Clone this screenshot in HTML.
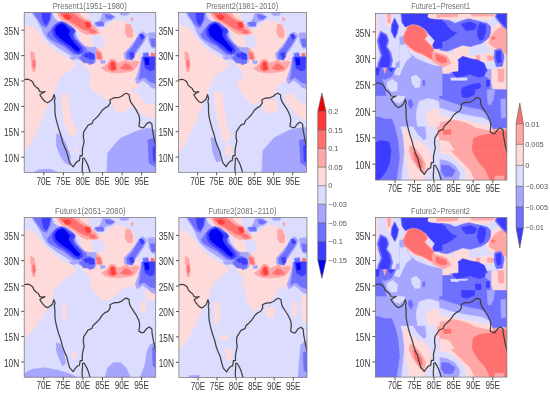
<!DOCTYPE html><html><head><meta charset="utf-8"><style>html,body{margin:0;padding:0;background:#fff;}svg{display:block}text{font-family:"Liberation Sans",Arial,sans-serif}</style></head><body>
<svg width="550" height="394" viewBox="0 0 550 394">
<rect width="550" height="394" fill="#fff"/>
<defs><filter id="bl" x="-5%" y="-5%" width="110%" height="110%"><feGaussianBlur stdDeviation="0.55"/></filter></defs>
<clipPath id="c1"><rect x="24.2" y="12.4" width="131.6" height="160.0"/></clipPath>
<g clip-path="url(#c1)">
<g filter="url(#bl)">
<rect x="21.2" y="9.4" width="137.6" height="166.0" fill="#dcdcff"/>
<path d="M24.3,25.1 L31.3,27.1 L36.3,21.3 L42.6,23.8 L47.6,33.8 L55.1,42.6 L62.6,51.4 L71.4,60.2 L76.4,64.7 L70.2,70.2 L61.4,75.7 L58.9,81.8 L24.3,81.8Z" fill="#ffdada" stroke="#ffdada" stroke-width="0.7"/>
<path d="M80.2,60.2 L85.2,53.9 L95.3,60.2 L105.3,58.9 L114.1,47.6 L120.4,43.9 L130.4,46.4 L136.7,38.9 L137.9,50.1 L139.9,67.7 L140.4,77.7 L137.9,81.8 L89.7,81.8 L90.7,72.7Z" fill="#ffdada" stroke="#ffdada" stroke-width="0.7"/>
<path d="M81.5,20.0 L92.8,25.1 L102.8,22.5 L112.8,20.0 L125.4,21.3 L133.4,28.1 L135.9,37.6 L130.4,47.6 L120.4,45.1 L112.8,50.1 L105.3,60.7 L95.3,62.2 L87.2,57.7 L82.7,47.6 L80.2,37.6Z" fill="#ffdada" stroke="#ffdada" stroke-width="0.7"/>
<path d="M54.6,10.0 L91.0,10.0 L91.0,35.1 L84.7,35.7 L78.5,32.0 L72.2,27.6 L65.9,24.4 L59.6,21.3 L56.5,16.3Z" fill="#ffdada" stroke="#ffdada" stroke-width="0.7"/>
<path d="M100.3,67.0 L106.6,62.0 L139.2,59.5 L141.7,64.5 L136.7,73.3 L126.6,74.6 L111.6,74.6 L101.5,72.1Z" fill="#ffdada" stroke="#ffdada" stroke-width="0.7"/>
<path d="M24.3,79.0 L57.6,79.0 L55.1,90.0 L50.1,100.1 L45.1,110.1 L40.1,122.6 L35.1,135.2 L28.8,145.2 L24.3,152.8Z" fill="#ffdada" stroke="#ffdada" stroke-width="0.7"/>
<path d="M90.2,79.0 L136.7,79.0 L131.6,90.0 L130.4,108.1 L122.9,111.4 L115.3,108.1 L110.3,100.6 L102.8,97.6 L92.8,90.0 L89.0,85.0Z" fill="#ffdada" stroke="#ffdada" stroke-width="0.7"/>
<path d="M130.4,92.5 L137.9,93.8 L145.4,103.8 L155.5,105.1 L155.5,117.6 L149.2,117.6 L140.4,112.6 L132.9,105.1Z" fill="#ffdada" stroke="#ffdada" stroke-width="0.7"/>
<path d="M131.6,80.0 L140.4,80.0 L137.9,90.0 L132.9,87.5Z" fill="#ffdada" stroke="#ffdada" stroke-width="0.7"/>
<path d="M61.4,95.1 L67.7,94.6 L69.2,110.1 L71.7,120.1 L76.7,129.7 L74.2,135.7 L68.7,133.9 L65.2,125.2 L62.6,110.1Z" fill="#ffdada" stroke="#ffdada" stroke-width="0.7"/>
<path d="M112.8,102.6 L122.9,103.8 L122.9,111.4 L116.6,112.6Z" fill="#ffdada" stroke="#ffdada" stroke-width="0.7"/>
<path d="M73.9,147.7 L76.4,147.7 L76.4,151.5 L73.9,151.5Z" fill="#ffdada" stroke="#ffdada" stroke-width="0.7"/>
<path d="M91.5,35.1 L102.8,36.3 L104.0,46.4 L94.0,47.6Z" fill="#dcdcff" stroke="#dcdcff" stroke-width="0.7"/>
<path d="M29.5,10.0 L33.3,10.0 L37.1,15.0 L42.1,22.5 L47.1,28.8 L50.9,33.8 L57.1,40.1 L64.7,46.4 L72.2,51.4 L79.7,55.2 L91.0,56.4 L91.0,59.1 L72.2,59.1 L64.7,56.4 L57.1,51.4 L50.9,46.4 L45.8,41.4 L42.1,36.3 L38.3,31.3 L33.3,26.3 L30.8,22.5 L29.5,17.5Z" fill="#dcdcff" stroke="#dcdcff" stroke-width="0.7"/>
<path d="M89.0,10.0 L156.8,10.0 L156.8,17.5 L148.0,17.5 L141.7,15.0 L136.7,17.5 L131.7,15.0 L126.6,15.6 L121.6,16.3 L116.6,18.8 L111.6,21.3 L106.6,25.1 L104.1,27.6 L96.5,28.8 L89.0,23.8Z" fill="#dcdcff" stroke="#dcdcff" stroke-width="0.7"/>
<path d="M136.7,17.5 L145.5,20.0 L156.8,17.5 L156.8,47.6 L149.2,50.2 L144.2,47.6 L141.7,41.4 L139.2,35.1 L136.7,25.1Z" fill="#dcdcff" stroke="#dcdcff" stroke-width="0.7"/>
<path d="M55.9,10.0 L77.2,10.0 L81.0,16.3 L86.0,19.4 L91.0,21.3 L91.0,33.2 L87.2,34.5 L82.2,32.6 L77.2,28.8 L72.2,25.1 L67.2,22.5 L62.2,20.0 L58.4,15.6Z" fill="#ffa6a6" stroke="#ffa6a6" stroke-width="0.7"/>
<path d="M30.8,51.4 L33.9,52.7 L35.2,59.1 L30.8,59.1Z" fill="#ffa6a6" stroke="#ffa6a6" stroke-width="0.7"/>
<path d="M89.0,21.9 L92.8,24.8 L97.8,29.8 L99.3,33.2 L95.3,34.6 L90.3,34.1 L89.0,33.3Z" fill="#ffa6a6" stroke="#ffa6a6" stroke-width="0.7"/>
<path d="M126.0,23.8 L130.4,24.8 L132.9,31.1 L132.3,37.6 L127.6,37.1 L125.1,32.6Z" fill="#ffa6a6" stroke="#ffa6a6" stroke-width="0.7"/>
<path d="M131.0,17.3 L132.9,17.5 L133.2,20.7 L131.4,20.7Z" fill="#ffa6a6" stroke="#ffa6a6" stroke-width="0.7"/>
<path d="M92.1,47.6 L97.8,48.9 L101.5,52.7 L102.8,59.1 L96.5,59.1 L94.0,53.9Z" fill="#ffa6a6" stroke="#ffa6a6" stroke-width="0.7"/>
<path d="M31.8,58.3 L35.2,58.9 L36.1,64.5 L34.8,71.8 L32.8,71.1 L31.5,64.5Z" fill="#ffa6a6" stroke="#ffa6a6" stroke-width="0.7"/>
<path d="M101.5,68.3 L106.6,64.5 L110.3,59.5 L114.1,58.9 L117.9,63.3 L122.9,61.4 L126.6,59.5 L130.4,62.6 L135.4,60.8 L139.2,62.0 L136.7,67.0 L132.9,70.8 L126.6,72.1 L119.1,72.7 L111.6,72.7 L105.3,70.8Z" fill="#ffa6a6" stroke="#ffa6a6" stroke-width="0.7"/>
<path d="M32.0,12.0 L52.0,12.0 L52.4,14.0 L53.7,18.1 L57.3,20.9 L63.4,21.9 L67.6,24.0 L73.7,28.0 L75.8,30.3 L75.4,33.5 L76.8,37.4 L80.9,42.3 L84.9,46.3 L90.0,47.5 L96.0,47.5 L96.0,62.0 L85.5,62.0 L77.9,59.0 L71.5,55.8 L65.2,52.0 L58.2,47.5 L51.2,42.5 L46.8,38.6 L44.2,34.2 L41.0,27.2 L37.0,20.1 L33.9,16.0Z" fill="#a6a6ff" stroke="#a6a6ff" stroke-width="0.7"/>
<path d="M102.8,13.1 L110.3,13.5 L115.3,16.9 L111.6,20.0 L105.3,21.3 L103.4,26.3 L96.5,26.6 L94.0,23.8 L99.0,21.3 L101.5,17.5Z" fill="#a6a6ff" stroke="#a6a6ff" stroke-width="0.7"/>
<path d="M117.2,10.0 L131.0,10.0 L127.9,15.0 L121.6,15.3Z" fill="#a6a6ff" stroke="#a6a6ff" stroke-width="0.7"/>
<path d="M124.1,53.3 L130.4,46.4 L135.4,40.1 L139.2,33.8 L143.0,31.6 L147.0,35.1 L144.2,41.4 L139.8,47.6 L136.1,53.3 L132.9,59.1 L124.8,59.1Z" fill="#a6a6ff" stroke="#a6a6ff" stroke-width="0.7"/>
<path d="M148.0,33.2 L154.2,32.6 L156.8,36.3 L156.8,47.6 L152.4,48.3 L149.2,42.6Z" fill="#a6a6ff" stroke="#a6a6ff" stroke-width="0.7"/>
<path d="M69.7,57.0 L78.5,57.0 L74.7,59.5 L70.9,58.9Z" fill="#a6a6ff" stroke="#a6a6ff" stroke-width="0.7"/>
<path d="M100.3,60.5 L105.3,60.8 L104.7,63.3 L100.9,63.3Z" fill="#a6a6ff" stroke="#a6a6ff" stroke-width="0.7"/>
<path d="M141.7,57.0 L155.5,57.0 L155.5,88.4 L151.7,87.7 L148.0,84.0 L143.0,80.2 L137.3,84.0 L135.4,79.6 L138.6,70.8Z" fill="#a6a6ff" stroke="#a6a6ff" stroke-width="0.7"/>
<path d="M56.4,133.9 L61.4,135.2 L66.4,145.2 L70.2,155.3 L70.7,165.3 L65.2,162.8 L60.1,155.3 L56.4,145.2Z" fill="#a6a6ff" stroke="#a6a6ff" stroke-width="0.7"/>
<path d="M31.3,173.3 L40.1,169.6 L50.1,169.3 L58.9,172.8 L60.1,178.1 L31.3,178.1Z" fill="#a6a6ff" stroke="#a6a6ff" stroke-width="0.7"/>
<path d="M106.6,178.1 L107.8,152.8 L120.4,138.2 L137.9,130.7 L147.9,128.2 L155.5,130.2 L155.5,178.1Z" fill="#a6a6ff" stroke="#a6a6ff" stroke-width="0.7"/>
<path d="M59.6,11.9 L70.9,11.9 L76.0,15.6 L81.0,19.4 L86.0,21.9 L90.4,23.8 L91.0,28.8 L87.9,30.7 L83.5,29.4 L78.5,26.3 L72.2,22.5 L65.9,18.8 L61.5,15.6Z" fill="#ff7070" stroke="#ff7070" stroke-width="0.7"/>
<path d="M90.0,28.8 L94.6,30.1 L96.5,32.6 L92.8,33.2 L89.6,32.6Z" fill="#ff7070" stroke="#ff7070" stroke-width="0.7"/>
<path d="M96.5,52.0 L100.3,53.3 L101.5,59.1 L97.8,59.1Z" fill="#ff7070" stroke="#ff7070" stroke-width="0.7"/>
<path d="M151.1,53.3 L154.2,53.3 L154.9,59.1 L151.1,59.1Z" fill="#ff7070" stroke="#ff7070" stroke-width="0.7"/>
<path d="M33.0,60.1 L34.5,60.5 L34.9,66.4 L33.5,68.3 L32.8,64.5Z" fill="#ff7070" stroke="#ff7070" stroke-width="0.7"/>
<path d="M107.8,67.0 L111.6,60.8 L115.3,62.0 L116.9,69.5 L112.8,71.1 L109.1,69.5Z" fill="#ff7070" stroke="#ff7070" stroke-width="0.7"/>
<path d="M120.4,68.3 L125.4,63.3 L129.2,64.8 L132.9,68.5 L126.6,69.8Z" fill="#ff7070" stroke="#ff7070" stroke-width="0.7"/>
<path d="M32.9,12.0 L51.4,12.0 L51.2,14.0 L50.4,20.1 L46.3,27.4 L43.0,26.2 L40.0,22.6 L37.0,18.1Z" fill="#7070ff" stroke="#7070ff" stroke-width="0.7"/>
<path d="M47.1,34.3 L50.2,30.3 L53.2,26.2 L57.3,23.1 L61.3,21.6 L65.9,22.9 L70.5,26.0 L74.0,29.0 L74.6,32.1 L74.0,34.8 L75.6,38.4 L79.6,43.0 L83.7,46.5 L86.7,49.1 L83.7,52.6 L78.6,54.7 L73.5,54.0 L68.5,50.1 L63.4,46.0 L58.3,43.5 L52.2,39.9 L48.6,37.4Z" fill="#7070ff" stroke="#7070ff" stroke-width="0.7"/>
<path d="M81.1,52.0 L86.8,50.7 L91.8,52.6 L92.5,57.7 L86.8,59.6 L81.7,57.7Z" fill="#7070ff" stroke="#7070ff" stroke-width="0.7"/>
<path d="M105.3,14.4 L110.3,15.0 L114.1,16.9 L110.3,19.0 L106.6,18.5Z" fill="#7070ff" stroke="#7070ff" stroke-width="0.7"/>
<path d="M95.3,22.5 L102.8,21.9 L103.8,25.7 L97.8,25.7Z" fill="#7070ff" stroke="#7070ff" stroke-width="0.7"/>
<path d="M126.6,53.3 L132.9,46.4 L137.7,37.9 L141.7,33.8 L145.0,36.9 L141.7,42.9 L136.9,49.1 L133.2,55.4 L131.0,59.1 L127.3,59.1Z" fill="#7070ff" stroke="#7070ff" stroke-width="0.7"/>
<path d="M150.5,38.9 L154.9,38.9 L155.5,46.4 L151.7,46.6Z" fill="#7070ff" stroke="#7070ff" stroke-width="0.7"/>
<path d="M143.0,53.3 L148.0,52.7 L149.2,59.1 L144.2,59.1Z" fill="#7070ff" stroke="#7070ff" stroke-width="0.7"/>
<path d="M79.1,57.0 L91.0,57.0 L91.0,63.3 L83.5,62.6Z" fill="#7070ff" stroke="#7070ff" stroke-width="0.7"/>
<path d="M89.0,57.0 L94.0,57.0 L94.0,63.3 L89.0,64.5Z" fill="#7070ff" stroke="#7070ff" stroke-width="0.7"/>
<path d="M129.2,57.0 L134.2,57.0 L132.3,60.1 L129.8,59.8Z" fill="#7070ff" stroke="#7070ff" stroke-width="0.7"/>
<path d="M142.3,57.0 L155.5,57.0 L155.5,83.3 L150.5,82.1 L144.2,77.1 L139.2,79.6 L140.4,70.8Z" fill="#7070ff" stroke="#7070ff" stroke-width="0.7"/>
<path d="M147.9,140.2 L155.5,137.7 L155.5,166.6 L149.2,163.3Z" fill="#7070ff" stroke="#7070ff" stroke-width="0.7"/>
<path d="M63.4,15.6 L67.8,14.4 L71.6,16.9 L69.1,19.4 L65.3,18.8Z" fill="#ff3c3c" stroke="#ff3c3c" stroke-width="0.7"/>
<path d="M85.4,21.9 L89.8,22.5 L90.8,26.9 L86.6,27.6Z" fill="#ff3c3c" stroke="#ff3c3c" stroke-width="0.7"/>
<path d="M111.0,63.3 L113.7,62.0 L115.6,68.9 L111.8,69.8Z" fill="#ff3c3c" stroke="#ff3c3c" stroke-width="0.7"/>
<path d="M42.0,12.0 L50.2,12.0 L49.7,16.0 L49.1,19.6 L46.3,25.2 L44.1,23.1 L42.5,18.1Z" fill="#3c3cff" stroke="#3c3cff" stroke-width="0.7"/>
<path d="M53.2,28.2 L56.3,24.2 L61.3,22.1 L65.4,23.7 L69.5,27.2 L73.5,29.2 L75.1,31.3 L72.5,34.3 L73.5,38.4 L77.6,42.5 L81.7,47.5 L82.7,51.6 L78.6,54.0 L73.5,51.6 L68.5,47.5 L63.4,43.5 L58.3,40.4 L54.2,36.4 L52.7,32.3Z" fill="#3c3cff" stroke="#3c3cff" stroke-width="0.7"/>
<path d="M84.2,53.9 L89.3,53.2 L90.6,56.4 L86.8,57.7 L84.2,56.4Z" fill="#3c3cff" stroke="#3c3cff" stroke-width="0.7"/>
<path d="M139.4,34.5 L142.7,34.1 L144.2,37.6 L141.4,39.1Z" fill="#3c3cff" stroke="#3c3cff" stroke-width="0.7"/>
<path d="M129.2,53.3 L133.2,52.0 L134.2,56.7 L131.0,58.3Z" fill="#3c3cff" stroke="#3c3cff" stroke-width="0.7"/>
<path d="M89.0,52.7 L94.0,53.9 L94.6,59.1 L89.0,59.1Z" fill="#3c3cff" stroke="#3c3cff" stroke-width="0.7"/>
<path d="M143.0,57.0 L154.9,57.0 L154.2,69.5 L150.5,70.8 L145.5,68.3Z" fill="#3c3cff" stroke="#3c3cff" stroke-width="0.7"/>
<path d="M153.0,147.7 L155.5,145.7 L155.5,162.8 L153.5,160.3Z" fill="#3c3cff" stroke="#3c3cff" stroke-width="0.7"/>
<path d="M55.2,29.2 L57.8,25.4 L62.4,23.7 L64.9,25.2 L67.4,28.2 L69.5,30.3 L68.5,34.3 L70.5,38.4 L74.6,43.5 L79.6,49.1 L78.6,51.6 L74.6,49.6 L70.5,45.5 L65.4,41.9 L60.3,38.4 L56.3,34.3Z" fill="#0000f2" stroke="#0000f2" stroke-width="0.7"/>
<path d="M144.8,58.3 L148.6,58.3 L149.0,64.5 L145.7,64.8Z" fill="#0000f2" stroke="#0000f2" stroke-width="0.7"/>
</g>
<path d="M23.8,79.7 L28.1,79.2 L30.9,80.5 L32.8,82.0 L34.0,85.0 L36.7,87.6 L38.3,88.6 L39.9,91.6 L42.6,92.1 L45.0,91.6 L42.2,93.2 L39.9,94.7 L41.0,96.7 L43.0,99.3 L45.4,101.8 L47.7,102.8 L50.0,101.3 L52.4,99.3 L54.0,94.7 L55.1,98.2 L54.4,100.8 L54.9,104.8 L54.9,111.4 L55.5,116.5 L56.7,121.6 L58.7,128.7 L60.6,134.3 L62.6,141.9 L64.9,148.0 L66.5,151.1 L68.1,157.2 L69.6,162.7 L73.2,166.8 L75.5,163.3 L77.5,161.2 L79.4,160.7 L80.2,155.6 L82.4,155.6 L82.4,149.5 L84.1,141.4 L83.3,136.8 L83.7,131.8 L86.5,127.7 L88.0,125.2 L92.0,123.6 L93.1,120.6 L95.9,118.1 L99.0,115.0 L102.5,109.9 L105.7,107.4 L108.0,106.4 L110.4,102.8 L110.0,99.8 L113.1,98.2 L115.1,97.7 L118.2,97.7 L121.7,96.2 L124.1,94.2 L126.4,93.2 L129.2,94.7 L129.6,98.7 L130.7,101.8 L133.5,105.9 L136.2,109.9 L139.0,115.5 L139.7,120.1 L139.0,126.2 L141.7,127.7 L143.7,127.7 L146.8,123.6 L149.5,122.1 L151.9,124.1 L152.3,129.2 L154.2,139.4 L156.2,147.0" fill="none" stroke="#404040" stroke-width="1.25" stroke-linejoin="round"/>
<path d="M82.6,158.2 L84.1,158.2 L86.5,162.2 L87.7,164.8 L88.8,168.3 L90.0,172.4 L90.4,174.9" fill="none" stroke="#404040" stroke-width="1.25" stroke-linejoin="round"/>
<path d="M82.2,174.9 L82.4,172.4 L82.2,167.3 L82.6,162.2 L82.6,158.2" fill="none" stroke="#404040" stroke-width="1.25" stroke-linejoin="round"/>
</g>
<rect x="24.2" y="12.4" width="131.6" height="160.0" fill="none" stroke="#777" stroke-width="0.75"/>
<line x1="21.2" y1="30.2" x2="24.2" y2="30.2" stroke="#444" stroke-width="0.9"/>
<text x="19.2" y="34.8" font-size="10.1" fill="#3a3a3a" text-anchor="end" textLength="15.2" lengthAdjust="spacingAndGlyphs">35N</text>
<line x1="21.2" y1="55.6" x2="24.2" y2="55.6" stroke="#444" stroke-width="0.9"/>
<text x="19.2" y="60.2" font-size="10.1" fill="#3a3a3a" text-anchor="end" textLength="15.2" lengthAdjust="spacingAndGlyphs">30N</text>
<line x1="21.2" y1="81.0" x2="24.2" y2="81.0" stroke="#444" stroke-width="0.9"/>
<text x="19.2" y="85.6" font-size="10.1" fill="#3a3a3a" text-anchor="end" textLength="15.2" lengthAdjust="spacingAndGlyphs">25N</text>
<line x1="21.2" y1="106.4" x2="24.2" y2="106.4" stroke="#444" stroke-width="0.9"/>
<text x="19.2" y="111.0" font-size="10.1" fill="#3a3a3a" text-anchor="end" textLength="15.2" lengthAdjust="spacingAndGlyphs">20N</text>
<line x1="21.2" y1="131.8" x2="24.2" y2="131.8" stroke="#444" stroke-width="0.9"/>
<text x="19.2" y="136.4" font-size="10.1" fill="#3a3a3a" text-anchor="end" textLength="15.2" lengthAdjust="spacingAndGlyphs">15N</text>
<line x1="21.2" y1="157.2" x2="24.2" y2="157.2" stroke="#444" stroke-width="0.9"/>
<text x="19.2" y="161.8" font-size="10.1" fill="#3a3a3a" text-anchor="end" textLength="15.2" lengthAdjust="spacingAndGlyphs">10N</text>
<line x1="43.8" y1="172.4" x2="43.8" y2="175.4" stroke="#444" stroke-width="0.9"/>
<text x="43.8" y="184.6" font-size="10.1" fill="#3a3a3a" text-anchor="middle" textLength="14.6" lengthAdjust="spacingAndGlyphs">70E</text>
<line x1="63.4" y1="172.4" x2="63.4" y2="175.4" stroke="#444" stroke-width="0.9"/>
<text x="63.4" y="184.6" font-size="10.1" fill="#3a3a3a" text-anchor="middle" textLength="14.6" lengthAdjust="spacingAndGlyphs">75E</text>
<line x1="83.0" y1="172.4" x2="83.0" y2="175.4" stroke="#444" stroke-width="0.9"/>
<text x="83.0" y="184.6" font-size="10.1" fill="#3a3a3a" text-anchor="middle" textLength="14.6" lengthAdjust="spacingAndGlyphs">80E</text>
<line x1="102.5" y1="172.4" x2="102.5" y2="175.4" stroke="#444" stroke-width="0.9"/>
<text x="102.5" y="184.6" font-size="10.1" fill="#3a3a3a" text-anchor="middle" textLength="14.6" lengthAdjust="spacingAndGlyphs">85E</text>
<line x1="122.1" y1="172.4" x2="122.1" y2="175.4" stroke="#444" stroke-width="0.9"/>
<text x="122.1" y="184.6" font-size="10.1" fill="#3a3a3a" text-anchor="middle" textLength="14.6" lengthAdjust="spacingAndGlyphs">90E</text>
<line x1="141.7" y1="172.4" x2="141.7" y2="175.4" stroke="#444" stroke-width="0.9"/>
<text x="141.7" y="184.6" font-size="10.1" fill="#3a3a3a" text-anchor="middle" textLength="14.6" lengthAdjust="spacingAndGlyphs">95E</text>
<text x="89.7" y="9.0" font-size="8.4" fill="#707070" text-anchor="middle" textLength="74.1" lengthAdjust="spacingAndGlyphs">Present1(1951−1980)</text>
<clipPath id="c2"><rect x="178.6" y="12.6" width="127.8" height="159.7"/></clipPath>
<g clip-path="url(#c2)">
<g filter="url(#bl)">
<rect x="175.6" y="9.6" width="133.8" height="165.7" fill="#dcdcff"/>
<path d="M178.7,25.2 L185.5,27.2 L190.4,21.5 L196.4,24.0 L201.3,34.0 L208.6,42.8 L215.9,51.5 L224.5,60.3 L229.3,64.8 L223.2,70.3 L214.7,75.8 L212.3,81.8 L178.7,81.8Z" fill="#ffdada" stroke="#ffdada" stroke-width="0.7"/>
<path d="M233.0,60.3 L237.9,54.0 L247.6,60.3 L257.4,59.0 L265.9,47.8 L272.0,44.0 L281.7,46.5 L287.8,39.0 L289.0,50.3 L291.0,67.8 L291.5,77.8 L289.0,81.8 L242.3,81.8 L243.2,72.8Z" fill="#ffdada" stroke="#ffdada" stroke-width="0.7"/>
<path d="M234.2,20.2 L245.2,25.2 L254.9,22.7 L264.7,20.2 L276.8,21.5 L284.6,28.2 L287.1,37.7 L281.7,47.8 L272.0,45.3 L264.7,50.3 L257.4,60.8 L247.6,62.3 L239.8,57.8 L235.4,47.8 L233.0,37.7Z" fill="#ffdada" stroke="#ffdada" stroke-width="0.7"/>
<path d="M208.1,10.2 L243.5,10.2 L243.5,35.3 L237.4,35.9 L231.3,32.1 L225.2,27.7 L219.1,24.6 L213.0,21.5 L210.0,16.5Z" fill="#ffdada" stroke="#ffdada" stroke-width="0.7"/>
<path d="M252.5,67.1 L258.6,62.1 L290.3,59.6 L292.7,64.6 L287.8,73.4 L278.1,74.6 L263.5,74.6 L253.7,72.1Z" fill="#ffdada" stroke="#ffdada" stroke-width="0.7"/>
<path d="M178.5,79.0 L211.6,79.0 L209.1,90.0 L204.1,100.1 L199.1,112.6 L194.1,125.2 L189.1,135.2 L184.0,145.2 L178.5,152.8Z" fill="#ffdada" stroke="#ffdada" stroke-width="0.7"/>
<path d="M236.7,79.0 L284.4,79.0 L276.9,87.5 L273.1,97.6 L261.8,100.1 L254.3,105.1 L246.8,100.1 L239.7,90.0Z" fill="#ffdada" stroke="#ffdada" stroke-width="0.7"/>
<path d="M261.8,100.1 L276.9,100.1 L276.9,112.6 L264.3,112.6Z" fill="#ffdada" stroke="#ffdada" stroke-width="0.7"/>
<path d="M214.1,92.5 L221.7,92.5 L224.2,110.1 L226.7,125.2 L231.2,135.2 L228.2,142.2 L222.9,139.7 L219.2,125.2 L215.4,107.6Z" fill="#ffdada" stroke="#ffdada" stroke-width="0.7"/>
<path d="M284.4,95.1 L291.9,93.8 L299.4,102.6 L306.2,105.1 L306.2,120.1 L299.4,117.6 L291.9,110.1 L286.9,102.6Z" fill="#ffdada" stroke="#ffdada" stroke-width="0.7"/>
<path d="M225.4,145.7 L231.2,145.7 L231.7,155.3 L226.2,155.3Z" fill="#ffdada" stroke="#ffdada" stroke-width="0.7"/>
<path d="M244.0,35.2 L254.9,36.5 L256.1,46.5 L246.4,47.8Z" fill="#dcdcff" stroke="#dcdcff" stroke-width="0.7"/>
<path d="M183.8,10.2 L187.4,10.2 L191.1,15.2 L196.0,22.7 L200.8,29.0 L204.5,34.0 L210.6,40.3 L217.9,46.5 L225.2,51.5 L232.5,55.3 L243.5,56.5 L243.5,59.2 L225.2,59.2 L217.9,56.5 L210.6,51.5 L204.5,46.5 L199.6,41.5 L196.0,36.5 L192.3,31.5 L187.4,26.5 L185.0,22.7 L183.8,17.7Z" fill="#dcdcff" stroke="#dcdcff" stroke-width="0.7"/>
<path d="M241.5,10.2 L307.3,10.2 L307.3,17.7 L298.8,17.7 L292.7,15.2 L287.8,17.7 L283.0,15.2 L278.1,15.8 L273.2,16.5 L268.3,19.0 L263.5,21.5 L258.6,25.2 L256.2,27.7 L248.8,29.0 L241.5,24.0Z" fill="#dcdcff" stroke="#dcdcff" stroke-width="0.7"/>
<path d="M287.8,17.7 L296.4,20.2 L307.3,17.7 L307.3,47.8 L300.0,50.3 L295.1,47.8 L292.7,41.5 L290.3,35.3 L287.8,25.2Z" fill="#dcdcff" stroke="#dcdcff" stroke-width="0.7"/>
<path d="M209.4,10.2 L230.1,10.2 L233.7,16.5 L238.6,19.6 L243.5,21.5 L243.5,33.4 L239.8,34.6 L235.0,32.7 L230.1,29.0 L225.2,25.2 L220.3,22.7 L215.5,20.2 L211.8,15.8Z" fill="#ffa6a6" stroke="#ffa6a6" stroke-width="0.7"/>
<path d="M185.0,51.5 L188.0,52.8 L189.3,59.2 L185.0,59.2Z" fill="#ffa6a6" stroke="#ffa6a6" stroke-width="0.7"/>
<path d="M241.5,22.1 L245.2,25.0 L250.1,30.0 L251.5,33.4 L247.6,34.8 L242.7,34.2 L241.5,33.5Z" fill="#ffa6a6" stroke="#ffa6a6" stroke-width="0.7"/>
<path d="M277.5,24.0 L281.7,25.0 L284.2,31.2 L283.6,37.8 L279.1,37.3 L276.6,32.7Z" fill="#ffa6a6" stroke="#ffa6a6" stroke-width="0.7"/>
<path d="M282.3,17.5 L284.2,17.7 L284.4,20.8 L282.7,20.8Z" fill="#ffa6a6" stroke="#ffa6a6" stroke-width="0.7"/>
<path d="M244.6,47.8 L250.1,49.0 L253.7,52.8 L254.9,59.2 L248.8,59.2 L246.4,54.0Z" fill="#ffa6a6" stroke="#ffa6a6" stroke-width="0.7"/>
<path d="M186.0,58.4 L189.3,59.0 L190.1,64.6 L188.9,71.9 L186.9,71.1 L185.7,64.6Z" fill="#ffa6a6" stroke="#ffa6a6" stroke-width="0.7"/>
<path d="M253.7,68.4 L258.6,64.6 L262.2,59.6 L265.9,59.0 L269.6,63.4 L274.4,61.5 L278.1,59.6 L281.7,62.8 L286.6,60.9 L290.3,62.1 L287.8,67.1 L284.2,70.9 L278.1,72.1 L270.8,72.8 L263.5,72.8 L257.4,70.9Z" fill="#ffa6a6" stroke="#ffa6a6" stroke-width="0.7"/>
<path d="M186.1,12.2 L205.6,12.2 L206.0,14.2 L207.3,18.3 L210.7,21.1 L216.6,22.1 L220.8,24.1 L226.7,28.2 L228.7,30.4 L228.3,33.7 L229.7,37.5 L233.6,42.4 L237.6,46.5 L242.5,47.7 L248.3,47.7 L248.3,62.1 L238.2,62.1 L230.8,59.1 L224.5,55.9 L218.4,52.1 L211.6,47.7 L204.8,42.6 L200.6,38.7 L198.0,34.4 L194.9,27.4 L191.0,20.3 L188.0,16.2Z" fill="#a6a6ff" stroke="#a6a6ff" stroke-width="0.7"/>
<path d="M254.9,13.3 L262.2,13.7 L267.1,17.1 L263.5,20.2 L257.4,21.5 L255.5,26.5 L248.8,26.7 L246.4,24.0 L251.3,21.5 L253.7,17.7Z" fill="#a6a6ff" stroke="#a6a6ff" stroke-width="0.7"/>
<path d="M268.9,10.2 L282.3,10.2 L279.3,15.2 L273.2,15.5Z" fill="#a6a6ff" stroke="#a6a6ff" stroke-width="0.7"/>
<path d="M275.6,53.4 L281.7,46.5 L286.6,40.3 L290.3,34.0 L293.9,31.7 L297.8,35.3 L295.1,41.5 L290.9,47.8 L287.2,53.4 L284.2,59.2 L276.3,59.2Z" fill="#a6a6ff" stroke="#a6a6ff" stroke-width="0.7"/>
<path d="M298.8,33.4 L304.9,32.7 L307.3,36.5 L307.3,47.8 L303.1,48.4 L300.0,42.8Z" fill="#a6a6ff" stroke="#a6a6ff" stroke-width="0.7"/>
<path d="M222.8,57.1 L231.3,57.1 L227.6,59.6 L224.0,59.0Z" fill="#a6a6ff" stroke="#a6a6ff" stroke-width="0.7"/>
<path d="M252.5,60.6 L257.4,60.9 L256.8,63.4 L253.1,63.4Z" fill="#a6a6ff" stroke="#a6a6ff" stroke-width="0.7"/>
<path d="M292.7,57.1 L306.1,57.1 L306.1,88.4 L302.5,87.8 L298.8,84.0 L293.9,80.3 L288.4,84.0 L286.6,79.7 L289.7,70.9Z" fill="#a6a6ff" stroke="#a6a6ff" stroke-width="0.7"/>
<path d="M211.1,137.7 L215.4,139.0 L219.2,150.2 L220.4,160.8 L216.6,161.8 L212.9,152.8Z" fill="#a6a6ff" stroke="#a6a6ff" stroke-width="0.7"/>
<path d="M261.8,172.8 L263.1,150.2 L274.4,137.7 L289.4,130.2 L301.9,127.7 L307.0,127.7 L307.0,172.8Z" fill="#a6a6ff" stroke="#a6a6ff" stroke-width="0.7"/>
<path d="M213.0,12.1 L224.0,12.1 L228.9,15.8 L233.7,19.6 L238.6,22.1 L242.9,24.0 L243.5,29.0 L240.4,30.9 L236.2,29.6 L231.3,26.5 L225.2,22.7 L219.1,19.0 L214.8,15.8Z" fill="#ff7070" stroke="#ff7070" stroke-width="0.7"/>
<path d="M242.5,29.0 L247.0,30.2 L248.8,32.7 L245.2,33.4 L242.1,32.7Z" fill="#ff7070" stroke="#ff7070" stroke-width="0.7"/>
<path d="M248.8,52.2 L252.5,53.4 L253.7,59.2 L250.1,59.2Z" fill="#ff7070" stroke="#ff7070" stroke-width="0.7"/>
<path d="M301.8,53.4 L304.9,53.4 L305.5,59.2 L301.8,59.2Z" fill="#ff7070" stroke="#ff7070" stroke-width="0.7"/>
<path d="M187.2,60.2 L188.6,60.6 L189.0,66.5 L187.7,68.4 L186.9,64.6Z" fill="#ff7070" stroke="#ff7070" stroke-width="0.7"/>
<path d="M259.8,67.1 L263.5,60.9 L267.1,62.1 L268.6,69.6 L264.7,71.1 L261.0,69.6Z" fill="#ff7070" stroke="#ff7070" stroke-width="0.7"/>
<path d="M272.0,68.4 L276.9,63.4 L280.5,64.9 L284.2,68.6 L278.1,69.9Z" fill="#ff7070" stroke="#ff7070" stroke-width="0.7"/>
<path d="M187.0,12.2 L205.0,12.2 L204.8,14.2 L204.0,20.3 L200.1,27.6 L196.9,26.4 L193.9,22.8 L191.0,18.3Z" fill="#7070ff" stroke="#7070ff" stroke-width="0.7"/>
<path d="M200.9,34.5 L203.8,30.4 L206.8,26.4 L210.7,23.3 L214.7,21.8 L219.1,23.1 L223.6,26.2 L227.0,29.2 L227.5,32.3 L227.0,35.0 L228.5,38.5 L232.4,43.1 L236.4,46.7 L239.3,49.2 L236.4,52.7 L231.4,54.8 L226.5,54.2 L221.6,50.2 L216.6,46.1 L211.7,43.6 L205.8,40.1 L202.3,37.5Z" fill="#7070ff" stroke="#7070ff" stroke-width="0.7"/>
<path d="M233.8,52.1 L239.4,50.8 L244.3,52.7 L244.9,57.8 L239.4,59.7 L234.4,57.8Z" fill="#7070ff" stroke="#7070ff" stroke-width="0.7"/>
<path d="M257.4,14.6 L262.2,15.2 L265.9,17.1 L262.2,19.2 L258.6,18.7Z" fill="#7070ff" stroke="#7070ff" stroke-width="0.7"/>
<path d="M247.6,22.7 L254.9,22.1 L255.9,25.9 L250.1,25.9Z" fill="#7070ff" stroke="#7070ff" stroke-width="0.7"/>
<path d="M278.1,53.4 L284.2,46.5 L288.8,38.0 L292.7,34.0 L295.9,37.0 L292.7,43.0 L288.1,49.3 L284.4,55.5 L282.3,59.2 L278.7,59.2Z" fill="#7070ff" stroke="#7070ff" stroke-width="0.7"/>
<path d="M301.2,39.0 L305.5,39.0 L306.1,46.5 L302.5,46.8Z" fill="#7070ff" stroke="#7070ff" stroke-width="0.7"/>
<path d="M293.9,53.4 L298.8,52.8 L300.0,59.2 L295.1,59.2Z" fill="#7070ff" stroke="#7070ff" stroke-width="0.7"/>
<path d="M231.9,57.1 L243.5,57.1 L243.5,63.4 L236.2,62.8Z" fill="#7070ff" stroke="#7070ff" stroke-width="0.7"/>
<path d="M241.5,57.1 L246.4,57.1 L246.4,63.4 L241.5,64.6Z" fill="#7070ff" stroke="#7070ff" stroke-width="0.7"/>
<path d="M280.5,57.1 L285.4,57.1 L283.6,60.2 L281.1,59.9Z" fill="#7070ff" stroke="#7070ff" stroke-width="0.7"/>
<path d="M293.3,57.1 L306.1,57.1 L306.1,83.4 L301.2,82.2 L295.1,77.2 L290.3,79.7 L291.5,70.9Z" fill="#7070ff" stroke="#7070ff" stroke-width="0.7"/>
<path d="M299.4,140.2 L307.0,139.0 L307.0,166.6 L300.7,162.8Z" fill="#7070ff" stroke="#7070ff" stroke-width="0.7"/>
<path d="M216.7,15.8 L220.9,14.6 L224.6,17.1 L222.2,19.6 L218.5,19.0Z" fill="#ff3c3c" stroke="#ff3c3c" stroke-width="0.7"/>
<path d="M238.0,22.1 L242.3,22.7 L243.2,27.1 L239.2,27.7Z" fill="#ff3c3c" stroke="#ff3c3c" stroke-width="0.7"/>
<path d="M262.9,63.4 L265.5,62.1 L267.4,69.0 L263.7,69.9Z" fill="#ff3c3c" stroke="#ff3c3c" stroke-width="0.7"/>
<path d="M195.9,12.2 L203.8,12.2 L203.3,16.2 L202.8,19.8 L200.1,25.4 L197.9,23.3 L196.4,18.3Z" fill="#3c3cff" stroke="#3c3cff" stroke-width="0.7"/>
<path d="M206.8,28.4 L209.7,24.3 L214.7,22.3 L218.6,23.8 L222.6,27.4 L226.5,29.4 L228.0,31.4 L225.5,34.5 L226.5,38.5 L230.5,42.6 L234.4,47.7 L235.4,51.7 L231.4,54.2 L226.5,51.7 L221.6,47.7 L216.6,43.6 L211.7,40.6 L207.8,36.5 L206.3,32.5Z" fill="#3c3cff" stroke="#3c3cff" stroke-width="0.7"/>
<path d="M236.9,54.0 L241.8,53.4 L243.1,56.5 L239.4,57.8 L236.9,56.5Z" fill="#3c3cff" stroke="#3c3cff" stroke-width="0.7"/>
<path d="M290.5,34.6 L293.7,34.2 L295.1,37.8 L292.5,39.3Z" fill="#3c3cff" stroke="#3c3cff" stroke-width="0.7"/>
<path d="M280.5,53.4 L284.4,52.2 L285.4,56.8 L282.3,58.4Z" fill="#3c3cff" stroke="#3c3cff" stroke-width="0.7"/>
<path d="M241.5,52.8 L246.4,54.0 L247.0,59.2 L241.5,59.2Z" fill="#3c3cff" stroke="#3c3cff" stroke-width="0.7"/>
<path d="M293.9,57.1 L305.5,57.1 L304.9,69.6 L301.2,70.9 L296.4,68.4Z" fill="#3c3cff" stroke="#3c3cff" stroke-width="0.7"/>
<path d="M303.7,145.7 L307.0,144.7 L307.0,162.8 L304.2,160.8Z" fill="#3c3cff" stroke="#3c3cff" stroke-width="0.7"/>
<path d="M208.7,29.4 L211.2,25.6 L215.7,23.8 L218.1,25.4 L220.6,28.4 L222.6,30.4 L221.6,34.5 L223.6,38.5 L227.5,43.6 L232.4,49.2 L231.4,51.7 L227.5,49.7 L223.6,45.6 L218.6,42.1 L213.7,38.5 L209.7,34.5Z" fill="#0000f2" stroke="#0000f2" stroke-width="0.7"/>
<path d="M295.8,58.4 L299.4,58.4 L299.8,64.6 L296.6,64.9Z" fill="#0000f2" stroke="#0000f2" stroke-width="0.7"/>
</g>
<path d="M178.2,79.8 L182.4,79.3 L185.1,80.5 L187.0,82.1 L188.1,85.1 L190.8,87.6 L192.3,88.6 L193.8,91.7 L196.5,92.2 L198.8,91.7 L196.1,93.2 L193.8,94.7 L195.0,96.8 L196.9,99.3 L199.1,101.8 L201.4,102.8 L203.7,101.3 L206.0,99.3 L207.5,94.7 L208.6,98.3 L207.9,100.8 L208.5,104.9 L208.5,111.5 L209.0,116.5 L210.2,121.6 L212.1,128.7 L214.0,134.3 L215.9,141.9 L218.2,148.0 L219.7,151.0 L221.2,157.1 L222.7,162.7 L226.1,166.7 L228.4,163.2 L230.3,161.1 L232.2,160.6 L233.0,155.6 L235.1,155.6 L235.1,149.5 L236.8,141.4 L236.0,136.8 L236.4,131.7 L239.1,127.7 L240.6,125.2 L244.4,123.6 L245.5,120.6 L248.2,118.1 L251.2,115.0 L254.7,109.9 L257.7,107.4 L260.0,106.4 L262.3,102.8 L261.9,99.8 L264.9,98.3 L266.8,97.8 L269.9,97.8 L273.3,96.3 L275.6,94.2 L277.9,93.2 L280.5,94.7 L280.9,98.8 L282.1,101.8 L284.7,105.9 L287.4,109.9 L290.0,115.5 L290.8,120.1 L290.0,126.2 L292.7,127.7 L294.6,127.7 L297.7,123.6 L300.3,122.1 L302.6,124.1 L303.0,129.2 L304.9,139.3 L306.8,147.0" fill="none" stroke="#404040" stroke-width="1.25" stroke-linejoin="round"/>
<path d="M235.3,158.1 L236.8,158.1 L239.1,162.2 L240.2,164.7 L241.4,168.2 L242.5,172.3 L242.9,174.8" fill="none" stroke="#404040" stroke-width="1.25" stroke-linejoin="round"/>
<path d="M234.9,174.8 L235.1,172.3 L234.9,167.2 L235.3,162.2 L235.3,158.1" fill="none" stroke="#404040" stroke-width="1.25" stroke-linejoin="round"/>
</g>
<rect x="178.6" y="12.6" width="127.8" height="159.7" fill="none" stroke="#777" stroke-width="0.75"/>
<line x1="175.6" y1="30.3" x2="178.6" y2="30.3" stroke="#444" stroke-width="0.9"/>
<text x="173.6" y="34.9" font-size="10.1" fill="#3a3a3a" text-anchor="end" textLength="15.2" lengthAdjust="spacingAndGlyphs">35N</text>
<line x1="175.6" y1="55.7" x2="178.6" y2="55.7" stroke="#444" stroke-width="0.9"/>
<text x="173.6" y="60.3" font-size="10.1" fill="#3a3a3a" text-anchor="end" textLength="15.2" lengthAdjust="spacingAndGlyphs">30N</text>
<line x1="175.6" y1="81.0" x2="178.6" y2="81.0" stroke="#444" stroke-width="0.9"/>
<text x="173.6" y="85.6" font-size="10.1" fill="#3a3a3a" text-anchor="end" textLength="15.2" lengthAdjust="spacingAndGlyphs">25N</text>
<line x1="175.6" y1="106.4" x2="178.6" y2="106.4" stroke="#444" stroke-width="0.9"/>
<text x="173.6" y="111.0" font-size="10.1" fill="#3a3a3a" text-anchor="end" textLength="15.2" lengthAdjust="spacingAndGlyphs">20N</text>
<line x1="175.6" y1="131.7" x2="178.6" y2="131.7" stroke="#444" stroke-width="0.9"/>
<text x="173.6" y="136.3" font-size="10.1" fill="#3a3a3a" text-anchor="end" textLength="15.2" lengthAdjust="spacingAndGlyphs">15N</text>
<line x1="175.6" y1="157.1" x2="178.6" y2="157.1" stroke="#444" stroke-width="0.9"/>
<text x="173.6" y="161.7" font-size="10.1" fill="#3a3a3a" text-anchor="end" textLength="15.2" lengthAdjust="spacingAndGlyphs">10N</text>
<line x1="197.6" y1="172.3" x2="197.6" y2="175.3" stroke="#444" stroke-width="0.9"/>
<text x="197.6" y="184.5" font-size="10.1" fill="#3a3a3a" text-anchor="middle" textLength="14.6" lengthAdjust="spacingAndGlyphs">70E</text>
<line x1="216.6" y1="172.3" x2="216.6" y2="175.3" stroke="#444" stroke-width="0.9"/>
<text x="216.6" y="184.5" font-size="10.1" fill="#3a3a3a" text-anchor="middle" textLength="14.6" lengthAdjust="spacingAndGlyphs">75E</text>
<line x1="235.7" y1="172.3" x2="235.7" y2="175.3" stroke="#444" stroke-width="0.9"/>
<text x="235.7" y="184.5" font-size="10.1" fill="#3a3a3a" text-anchor="middle" textLength="14.6" lengthAdjust="spacingAndGlyphs">80E</text>
<line x1="254.7" y1="172.3" x2="254.7" y2="175.3" stroke="#444" stroke-width="0.9"/>
<text x="254.7" y="184.5" font-size="10.1" fill="#3a3a3a" text-anchor="middle" textLength="14.6" lengthAdjust="spacingAndGlyphs">85E</text>
<line x1="273.7" y1="172.3" x2="273.7" y2="175.3" stroke="#444" stroke-width="0.9"/>
<text x="273.7" y="184.5" font-size="10.1" fill="#3a3a3a" text-anchor="middle" textLength="14.6" lengthAdjust="spacingAndGlyphs">90E</text>
<line x1="292.7" y1="172.3" x2="292.7" y2="175.3" stroke="#444" stroke-width="0.9"/>
<text x="292.7" y="184.5" font-size="10.1" fill="#3a3a3a" text-anchor="middle" textLength="14.6" lengthAdjust="spacingAndGlyphs">95E</text>
<text x="242.2" y="9.0" font-size="8.4" fill="#707070" text-anchor="middle" textLength="72.0" lengthAdjust="spacingAndGlyphs">Present2(1981−2010)</text>
<clipPath id="c3"><rect x="375.4" y="13.4" width="131.5" height="166.7"/></clipPath>
<g clip-path="url(#c3)">
<g filter="url(#bl)">
<rect x="372.4" y="10.4" width="137.5" height="172.7" fill="#dcdcff"/>
<path d="M375.3,13.3 L377.8,13.3 L377.8,52.6 L375.3,54.1Z" fill="#ffdada" stroke="#ffdada" stroke-width="0.7"/>
<path d="M385.7,13.3 L392.1,13.3 L391.5,26.7 L386.5,26.7Z" fill="#ffdada" stroke="#ffdada" stroke-width="0.7"/>
<path d="M428.3,13.3 L442.0,13.3 L442.0,19.4 L429.8,18.4 L427.6,16.4Z" fill="#ffdada" stroke="#ffdada" stroke-width="0.7"/>
<path d="M401.7,37.1 L407.3,25.2 L414.9,23.4 L422.2,25.8 L427.1,30.1 L428.9,35.6 L426.2,38.6 L430.1,42.6 L434.7,46.2 L439.3,50.8 L442.0,52.9 L442.0,64.0 L435.9,63.3 L429.5,60.2 L421.9,55.7 L414.3,52.9 L407.9,48.4 L402.4,43.5Z" fill="#ffdada" stroke="#ffdada" stroke-width="0.7"/>
<path d="M440.0,13.3 L497.8,13.3 L496.3,16.4 L490.2,19.1 L478.1,19.4 L462.8,19.1 L449.1,19.4 L440.0,19.4Z" fill="#ffdada" stroke="#ffdada" stroke-width="0.7"/>
<path d="M485.7,38.9 L490.2,29.8 L495.6,25.2 L500.9,21.4 L507.0,19.4 L507.0,58.7 L500.9,55.7 L493.3,51.1 L487.2,46.5Z" fill="#ffdada" stroke="#ffdada" stroke-width="0.7"/>
<path d="M453.7,48.1 L468.9,46.5 L475.0,55.7 L490.2,52.6 L494.0,55.7 L493.3,61.8 L482.6,61.8 L470.4,60.2 L459.8,58.7 L453.7,60.2Z" fill="#ffdada" stroke="#ffdada" stroke-width="0.7"/>
<path d="M440.0,54.1 L449.1,54.9 L449.1,63.3 L440.0,63.3Z" fill="#ffdada" stroke="#ffdada" stroke-width="0.7"/>
<path d="M500.9,61.8 L507.0,60.2 L507.0,71.2 L500.9,71.2Z" fill="#ffdada" stroke="#ffdada" stroke-width="0.7"/>
<path d="M403.2,126.1 L408.5,132.2 L414.6,139.8 L422.2,142.8 L429.8,150.4 L431.4,159.6 L429.8,168.7 L425.3,176.3 L422.2,180.1 L410.1,180.1 L407.0,165.7 L404.7,150.4 L403.2,138.3Z" fill="#ffdada" stroke="#ffdada" stroke-width="0.7"/>
<path d="M435.9,119.1 L442.0,119.1 L442.0,139.0 L436.7,138.3Z" fill="#ffdada" stroke="#ffdada" stroke-width="0.7"/>
<path d="M440.0,119.1 L507.0,119.1 L507.0,180.1 L440.0,180.1Z" fill="#ffdada" stroke="#ffdada" stroke-width="0.7"/>
<path d="M388.7,49.9 L391.2,51.9 L391.5,55.7 L389.0,55.1Z" fill="#dcdcff" stroke="#dcdcff" stroke-width="0.7"/>
<path d="M462.8,31.6 L470.4,31.0 L469.7,34.4 L462.8,34.7Z" fill="#dcdcff" stroke="#dcdcff" stroke-width="0.7"/>
<path d="M443.0,42.3 L452.2,42.0 L451.9,46.5 L443.8,46.5Z" fill="#dcdcff" stroke="#dcdcff" stroke-width="0.7"/>
<path d="M468.9,45.3 L475.3,45.3 L474.7,55.7 L469.7,55.4Z" fill="#dcdcff" stroke="#dcdcff" stroke-width="0.7"/>
<path d="M467.4,119.1 L485.7,119.1 L484.1,123.0 L468.9,123.0Z" fill="#dcdcff" stroke="#dcdcff" stroke-width="0.7"/>
<path d="M440.0,153.5 L449.1,155.0 L458.3,162.6 L464.4,170.2 L465.9,180.1 L440.0,180.1Z" fill="#dcdcff" stroke="#dcdcff" stroke-width="0.7"/>
<path d="M387.2,13.8 L390.9,13.8 L390.3,22.9 L388.1,22.9Z" fill="#ffa6a6" stroke="#ffa6a6" stroke-width="0.7"/>
<path d="M384.2,63.3 L386.5,63.3 L386.6,71.2 L384.5,71.2Z" fill="#ffa6a6" stroke="#ffa6a6" stroke-width="0.7"/>
<path d="M436.7,14.6 L439.7,14.6 L439.7,17.6 L437.1,17.6Z" fill="#ffa6a6" stroke="#ffa6a6" stroke-width="0.7"/>
<path d="M402.7,37.1 L407.9,25.8 L414.9,24.3 L421.6,26.7 L426.2,30.7 L427.7,35.6 L425.0,38.9 L428.9,43.2 L433.5,47.1 L438.1,51.7 L442.0,54.1 L442.0,62.5 L435.9,62.1 L429.8,59.0 L422.2,54.4 L414.6,51.7 L408.5,47.1 L403.4,42.6Z" fill="#ffa6a6" stroke="#ffa6a6" stroke-width="0.7"/>
<path d="M440.0,13.3 L458.3,13.3 L457.5,16.4 L449.1,17.0 L440.0,16.7Z" fill="#ffa6a6" stroke="#ffa6a6" stroke-width="0.7"/>
<path d="M470.4,13.3 L494.8,13.3 L493.3,16.1 L472.0,16.1Z" fill="#ffa6a6" stroke="#ffa6a6" stroke-width="0.7"/>
<path d="M490.2,37.7 L494.8,31.3 L500.9,26.7 L507.0,24.9 L507.0,54.1 L500.9,51.1 L493.3,46.5 L489.0,43.5Z" fill="#ffa6a6" stroke="#ffa6a6" stroke-width="0.7"/>
<path d="M476.2,55.7 L479.9,55.7 L479.9,60.2 L476.5,60.2Z" fill="#ffa6a6" stroke="#ffa6a6" stroke-width="0.7"/>
<path d="M487.2,55.7 L493.3,56.0 L493.0,60.2 L487.5,60.2Z" fill="#ffa6a6" stroke="#ffa6a6" stroke-width="0.7"/>
<path d="M410.1,145.9 L414.6,147.4 L420.7,155.0 L425.3,164.1 L424.5,171.8 L420.7,171.8 L416.1,165.7 L411.6,158.1 L409.3,150.4Z" fill="#ffa6a6" stroke="#ffa6a6" stroke-width="0.7"/>
<path d="M437.4,124.6 L442.0,124.6 L442.0,136.7 L437.8,136.0Z" fill="#ffa6a6" stroke="#ffa6a6" stroke-width="0.7"/>
<path d="M440.0,126.1 L449.1,123.0 L461.3,124.6 L478.1,126.8 L490.2,129.4 L507.0,129.1 L507.0,180.1 L475.0,180.1 L470.4,170.2 L462.8,162.6 L455.2,155.0 L446.1,145.9 L440.0,142.8Z" fill="#ffa6a6" stroke="#ffa6a6" stroke-width="0.7"/>
<path d="M394.8,71.2 L396.4,62.5 L400.9,61.0 L404.7,63.0 L410.1,60.2 L416.1,62.5 L422.2,65.6 L424.5,71.2Z" fill="#a6a6ff" stroke="#a6a6ff" stroke-width="0.7"/>
<path d="M399.7,37.4 L403.2,36.6 L404.7,48.1 L406.4,60.2 L401.8,61.4 L400.3,49.6Z" fill="#a6a6ff" stroke="#a6a6ff" stroke-width="0.7"/>
<path d="M375.3,69.3 L442.0,69.3 L442.0,126.2 L375.3,126.2Z" fill="#a6a6ff" stroke="#a6a6ff" stroke-width="0.7"/>
<path d="M440.0,69.3 L507.0,69.3 L507.0,126.2 L440.0,126.2Z" fill="#a6a6ff" stroke="#a6a6ff" stroke-width="0.7"/>
<path d="M391.8,119.1 L398.2,119.1 L402.4,135.2 L404.0,150.4 L402.4,165.7 L400.9,180.1 L396.4,180.1 L399.4,158.1 L397.9,139.8 L394.8,127.6Z" fill="#a6a6ff" stroke="#a6a6ff" stroke-width="0.7"/>
<path d="M411.6,119.1 L422.2,119.1 L425.3,129.1 L426.0,138.3 L423.8,139.8 L417.7,133.7 L413.1,126.1Z" fill="#a6a6ff" stroke="#a6a6ff" stroke-width="0.7"/>
<path d="M440.0,159.6 L447.6,161.1 L455.2,165.7 L459.8,173.3 L458.3,180.1 L440.0,180.1Z" fill="#a6a6ff" stroke="#a6a6ff" stroke-width="0.7"/>
<path d="M383.0,69.3 L386.9,69.3 L386.5,74.1 L383.9,74.1Z" fill="#ffdada" stroke="#ffdada" stroke-width="0.7"/>
<path d="M393.0,69.3 L397.9,69.3 L397.6,74.1 L393.3,74.1Z" fill="#dcdcff" stroke="#dcdcff" stroke-width="0.7"/>
<path d="M387.2,83.3 L391.8,80.2 L396.4,86.3 L402.4,72.6 L404.7,74.1 L405.5,87.8 L404.0,100.0 L399.4,103.1 L394.8,101.5 L390.3,95.4Z" fill="#dcdcff" stroke="#dcdcff" stroke-width="0.7"/>
<path d="M414.6,77.2 L419.2,75.7 L422.2,83.3 L420.7,93.9 L416.1,95.4 L412.3,86.3Z" fill="#dcdcff" stroke="#dcdcff" stroke-width="0.7"/>
<path d="M419.2,101.5 L428.3,98.5 L434.4,100.0 L442.0,103.1 L442.0,126.2 L417.7,126.2 L416.1,113.7Z" fill="#dcdcff" stroke="#dcdcff" stroke-width="0.7"/>
<path d="M440.0,69.3 L449.1,69.3 L449.1,74.1 L440.0,74.1Z" fill="#ffdada" stroke="#ffdada" stroke-width="0.7"/>
<path d="M440.0,110.7 L455.2,112.2 L470.4,112.2 L490.2,109.1 L490.2,116.8 L440.0,116.8Z" fill="#dcdcff" stroke="#dcdcff" stroke-width="0.7"/>
<path d="M426.8,112.2 L435.9,109.1 L442.0,110.7 L442.0,126.2 L428.3,126.2Z" fill="#ffdada" stroke="#ffdada" stroke-width="0.7"/>
<path d="M417.7,69.3 L442.0,69.3 L442.0,74.1 L425.3,74.4Z" fill="#ffdada" stroke="#ffdada" stroke-width="0.7"/>
<path d="M440.0,113.7 L455.2,115.2 L470.4,116.0 L485.7,113.7 L485.7,126.2 L440.0,126.2Z" fill="#ffdada" stroke="#ffdada" stroke-width="0.7"/>
<path d="M491.8,69.3 L507.0,69.3 L507.0,95.4 L494.8,93.9 L491.8,83.3Z" fill="#ffdada" stroke="#ffdada" stroke-width="0.7"/>
<path d="M429.8,69.3 L442.0,69.3 L442.0,72.6 L431.4,72.6Z" fill="#ffa6a6" stroke="#ffa6a6" stroke-width="0.7"/>
<path d="M446.1,121.3 L458.3,121.6 L458.3,126.2 L446.1,126.2Z" fill="#ffa6a6" stroke="#ffa6a6" stroke-width="0.7"/>
<path d="M497.8,69.3 L503.9,69.3 L503.9,81.7 L498.6,81.7Z" fill="#ffa6a6" stroke="#ffa6a6" stroke-width="0.7"/>
<path d="M404.0,36.8 L408.5,26.4 L414.9,25.2 L421.0,27.7 L425.3,31.3 L426.8,35.6 L423.8,39.2 L428.0,43.8 L432.6,48.1 L437.1,52.6 L442.0,55.7 L442.0,61.8 L435.9,60.8 L430.1,57.8 L422.5,53.5 L414.9,50.5 L409.1,45.9 L404.3,41.7Z" fill="#ff7070" stroke="#ff7070" stroke-width="0.7"/>
<path d="M491.8,37.1 L494.8,37.1 L494.5,39.2 L491.8,39.2Z" fill="#ff7070" stroke="#ff7070" stroke-width="0.7"/>
<path d="M440.0,55.7 L446.1,56.4 L446.4,61.8 L440.0,62.1Z" fill="#ff7070" stroke="#ff7070" stroke-width="0.7"/>
<path d="M413.1,152.0 L416.1,152.7 L421.5,161.1 L422.2,167.2 L419.2,167.9 L415.4,161.1Z" fill="#ff7070" stroke="#ff7070" stroke-width="0.7"/>
<path d="M472.0,138.3 L478.1,135.2 L490.2,132.2 L500.9,130.7 L505.4,133.7 L507.0,150.4 L507.0,180.1 L490.2,180.1 L485.7,170.2 L478.1,161.1 L473.5,153.5 L471.2,145.9Z" fill="#ff7070" stroke="#ff7070" stroke-width="0.7"/>
<path d="M443.0,130.7 L450.7,131.0 L450.4,134.0 L443.8,134.0Z" fill="#ff7070" stroke="#ff7070" stroke-width="0.7"/>
<path d="M494.8,176.3 L503.9,176.0 L503.9,180.1 L494.8,180.1Z" fill="#ffa6a6" stroke="#ffa6a6" stroke-width="0.7"/>
<path d="M394.5,17.9 L398.6,26.0 L397.3,33.1 L394.8,38.6 L391.2,31.6 L391.5,24.9Z" fill="#7070ff" stroke="#7070ff" stroke-width="0.7"/>
<path d="M380.4,31.3 L386.5,34.4 L388.7,40.4 L386.9,46.5 L390.6,51.9 L392.5,60.2 L390.0,71.2 L376.6,71.2 L378.1,63.3 L381.1,55.7 L378.8,48.1 L377.3,40.4Z" fill="#7070ff" stroke="#7070ff" stroke-width="0.7"/>
<path d="M400.9,13.3 L428.3,13.3 L427.1,16.4 L429.8,18.8 L442.0,20.0 L442.0,49.6 L439.0,48.8 L434.4,49.9 L432.6,45.3 L434.7,40.7 L431.7,37.1 L428.6,34.0 L425.6,29.5 L421.0,26.1 L416.4,24.0 L411.9,23.4 L408.1,24.9 L405.0,26.4 L402.0,22.5Z" fill="#7070ff" stroke="#7070ff" stroke-width="0.7"/>
<path d="M496.6,13.3 L507.0,13.3 L507.0,30.1 L502.4,26.0 L498.1,21.0 L495.1,16.7Z" fill="#7070ff" stroke="#7070ff" stroke-width="0.7"/>
<path d="M440.0,19.4 L449.1,20.4 L455.2,23.4 L462.8,20.4 L468.9,18.8 L475.0,20.4 L481.1,21.9 L487.2,23.4 L490.5,26.7 L490.5,32.8 L489.0,37.4 L485.7,40.4 L481.1,43.5 L475.0,45.0 L470.4,46.5 L462.8,45.0 L455.2,48.1 L447.6,51.1 L440.0,51.4Z" fill="#7070ff" stroke="#7070ff" stroke-width="0.7"/>
<path d="M494.8,49.9 L500.9,48.8 L504.2,55.7 L502.4,66.3 L496.3,66.6 L494.0,58.7Z" fill="#7070ff" stroke="#7070ff" stroke-width="0.7"/>
<path d="M375.3,116.8 L381.1,117.5 L387.2,121.3 L388.7,126.2 L375.3,126.2Z" fill="#7070ff" stroke="#7070ff" stroke-width="0.7"/>
<path d="M408.5,100.3 L411.3,99.7 L413.1,104.6 L410.8,109.1 L408.5,104.9Z" fill="#7070ff" stroke="#7070ff" stroke-width="0.7"/>
<path d="M422.5,80.2 L425.3,80.2 L425.3,86.3 L422.5,86.3Z" fill="#7070ff" stroke="#7070ff" stroke-width="0.7"/>
<path d="M437.4,74.1 L442.0,74.1 L442.0,100.0 L439.0,95.4Z" fill="#7070ff" stroke="#7070ff" stroke-width="0.7"/>
<path d="M440.0,74.1 L453.7,74.1 L456.7,77.2 L462.8,75.7 L484.1,75.7 L490.2,80.2 L490.2,95.4 L488.7,104.6 L482.6,107.6 L470.4,109.1 L455.2,108.4 L440.0,106.1Z" fill="#7070ff" stroke="#7070ff" stroke-width="0.7"/>
<path d="M493.3,93.9 L507.0,92.4 L507.0,126.2 L491.8,126.2Z" fill="#7070ff" stroke="#7070ff" stroke-width="0.7"/>
<path d="M375.3,119.1 L391.8,119.1 L394.8,127.6 L397.9,139.8 L399.4,158.1 L396.4,180.1 L375.3,180.1Z" fill="#7070ff" stroke="#7070ff" stroke-width="0.7"/>
<path d="M441.5,164.9 L449.1,165.7 L455.2,170.2 L452.2,176.3 L444.6,176.3 L441.5,171.8Z" fill="#7070ff" stroke="#7070ff" stroke-width="0.7"/>
<path d="M490.2,119.1 L505.4,119.1 L505.4,126.1 L491.8,126.1Z" fill="#7070ff" stroke="#7070ff" stroke-width="0.7"/>
<path d="M450.7,77.9 L467.4,77.9 L466.6,80.2 L451.4,80.2Z" fill="#dcdcff" stroke="#dcdcff" stroke-width="0.7"/>
<path d="M500.9,100.0 L503.9,100.0 L503.9,107.6 L501.2,107.6Z" fill="#dcdcff" stroke="#dcdcff" stroke-width="0.7"/>
<path d="M394.8,19.4 L397.6,26.4 L396.4,32.8 L394.8,37.1 L392.1,31.3 L392.4,25.2Z" fill="#3c3cff" stroke="#3c3cff" stroke-width="0.7"/>
<path d="M381.4,33.1 L385.7,36.2 L387.2,40.7 L385.1,46.5 L388.7,52.6 L390.3,60.2 L387.5,71.2 L378.4,71.2 L379.9,63.3 L383.0,55.7 L380.7,48.1 L379.2,40.4Z" fill="#3c3cff" stroke="#3c3cff" stroke-width="0.7"/>
<path d="M402.0,13.3 L428.0,13.3 L426.8,16.7 L429.5,19.1 L442.0,20.7 L442.0,48.1 L439.0,47.7 L434.7,48.8 L433.2,45.0 L435.3,40.7 L432.6,37.4 L429.5,34.4 L426.5,30.1 L421.9,26.7 L417.4,24.6 L412.8,24.0 L408.5,25.2 L405.5,27.0 L402.7,22.2Z" fill="#3c3cff" stroke="#3c3cff" stroke-width="0.7"/>
<path d="M498.1,13.3 L507.0,13.3 L507.0,28.0 L502.7,24.0 L499.1,19.4 L496.6,16.4Z" fill="#3c3cff" stroke="#3c3cff" stroke-width="0.7"/>
<path d="M440.0,20.7 L444.6,22.2 L447.6,26.7 L452.2,31.3 L456.7,32.8 L452.2,36.6 L446.1,40.4 L440.0,42.0Z" fill="#3c3cff" stroke="#3c3cff" stroke-width="0.7"/>
<path d="M461.3,24.0 L470.4,21.9 L476.5,24.5 L475.0,29.5 L465.9,30.5Z" fill="#3c3cff" stroke="#3c3cff" stroke-width="0.7"/>
<path d="M480.3,22.9 L485.7,25.2 L485.7,31.3 L483.4,38.9 L479.9,40.4 L477.3,34.4 L478.1,26.7Z" fill="#3c3cff" stroke="#3c3cff" stroke-width="0.7"/>
<path d="M496.6,51.4 L500.6,51.1 L501.2,61.8 L497.5,63.3 L496.0,57.2Z" fill="#3c3cff" stroke="#3c3cff" stroke-width="0.7"/>
<path d="M456.7,71.2 L457.5,60.2 L462.8,56.4 L470.4,58.7 L478.1,60.2 L484.1,63.3 L487.2,71.2Z" fill="#3c3cff" stroke="#3c3cff" stroke-width="0.7"/>
<path d="M376.6,69.3 L380.4,69.3 L379.9,75.7 L376.6,75.0Z" fill="#3c3cff" stroke="#3c3cff" stroke-width="0.7"/>
<path d="M387.2,69.3 L391.5,69.3 L390.9,72.6 L387.8,72.6Z" fill="#3c3cff" stroke="#3c3cff" stroke-width="0.7"/>
<path d="M450.7,69.3 L482.6,69.3 L485.7,72.6 L484.1,75.7 L479.6,77.2 L470.4,74.4 L462.8,76.0 L456.7,77.2 L453.7,74.4Z" fill="#3c3cff" stroke="#3c3cff" stroke-width="0.7"/>
<path d="M462.8,87.8 L470.4,84.8 L479.6,83.3 L481.1,86.3 L475.0,90.9 L468.9,95.4 L462.8,97.0 L461.3,92.4Z" fill="#3c3cff" stroke="#3c3cff" stroke-width="0.7"/>
<path d="M486.4,80.2 L489.5,80.2 L489.5,86.3 L486.4,86.3Z" fill="#3c3cff" stroke="#3c3cff" stroke-width="0.7"/>
<path d="M375.3,142.8 L381.1,140.5 L388.7,142.1 L391.0,150.4 L389.5,162.6 L385.7,171.8 L381.1,177.8 L378.1,180.1 L375.3,180.1Z" fill="#3c3cff" stroke="#3c3cff" stroke-width="0.7"/>
<path d="M434.0,49.0 L450.0,53.0 L458.0,61.0 L458.0,71.0 L446.0,72.0 L436.0,66.0Z" fill="#ffdada" stroke="#ffdada" stroke-width="0.7"/>
<path d="M432.0,51.0 L447.0,56.0 L451.0,63.0 L444.0,67.0 L433.0,62.0Z" fill="#ffa6a6" stroke="#ffa6a6" stroke-width="0.7"/>
<path d="M436.0,54.0 L446.0,58.0 L447.0,62.0 L442.0,63.0 L436.0,60.0Z" fill="#ff7070" stroke="#ff7070" stroke-width="0.7"/>
<path d="M440.0,89.7 L507.0,89.7 L507.0,126.5 L490.2,121.2 L485.7,112.8 L479.6,109.8 L470.4,108.3 L464.4,106.7 L458.3,105.2 L449.1,102.2 L440.0,99.1Z" fill="#7070ff" stroke="#7070ff" stroke-width="0.7"/>
<path d="M461.3,89.7 L475.0,89.7 L474.2,94.6 L467.4,97.6 L462.1,96.8Z" fill="#3c3cff" stroke="#3c3cff" stroke-width="0.7"/>
<path d="M487.2,89.7 L494.8,89.7 L493.3,99.1 L490.2,105.2 L487.9,103.7Z" fill="#a6a6ff" stroke="#a6a6ff" stroke-width="0.7"/>
<path d="M500.9,99.1 L505.4,99.1 L505.8,123.5 L501.6,123.8Z" fill="#a6a6ff" stroke="#a6a6ff" stroke-width="0.7"/>
<path d="M440.0,98.8 L449.1,101.9 L458.3,104.9 L464.4,106.4 L470.4,108.0 L479.6,109.5 L485.7,112.5 L490.5,120.4 L490.5,122.7 L482.6,118.2 L470.4,116.2 L455.2,113.1 L440.0,108.6Z" fill="#a6a6ff" stroke="#a6a6ff" stroke-width="0.7"/>
<path d="M440.0,108.3 L455.2,112.8 L470.4,115.9 L482.6,117.9 L490.5,122.3 L491.1,126.5 L479.6,123.8 L467.4,121.2 L455.2,118.9 L440.0,116.6Z" fill="#dcdcff" stroke="#dcdcff" stroke-width="0.7"/>
<path d="M440.0,116.3 L455.2,118.6 L467.4,120.9 L479.6,123.5 L491.1,126.2 L492.1,131.4 L485.7,130.3 L475.0,128.1 L467.4,123.8 L455.2,120.4 L440.0,122.7Z" fill="#ffdada" stroke="#ffdada" stroke-width="0.7"/>
<path d="M440.0,122.4 L455.2,120.1 L467.4,123.5 L475.0,127.7 L485.7,130.0 L492.1,132.3 L493.6,134.1 L507.0,132.6 L507.0,150.3 L440.0,150.3Z" fill="#ffa6a6" stroke="#ffa6a6" stroke-width="0.7"/>
<path d="M491.1,121.2 L507.0,117.7 L507.0,128.1 L500.9,127.4 L493.0,129.0Z" fill="#7070ff" stroke="#7070ff" stroke-width="0.7"/>
<path d="M472.0,150.3 L473.5,138.7 L479.6,135.7 L490.2,134.1 L494.8,133.4 L500.9,130.3 L507.0,131.1 L507.0,150.3Z" fill="#ff7070" stroke="#ff7070" stroke-width="0.7"/>
<path d="M443.0,130.3 L450.7,129.9 L451.0,134.1 L443.8,134.4Z" fill="#ff7070" stroke="#ff7070" stroke-width="0.7"/>
<path d="M440.0,140.2 L449.1,141.8 L454.0,150.3 L440.0,150.3Z" fill="#ffdada" stroke="#ffdada" stroke-width="0.7"/>
<path d="M400.0,45.0 L406.6,45.0 L408.9,52.6 L416.5,59.0 L425.4,62.8 L433.1,65.4 L442.0,66.6 L442.0,95.4 L375.4,95.4 L375.4,68.0 L400.0,68.0Z" fill="#a6a6ff" stroke="#a6a6ff" stroke-width="0.7"/>
<path d="M400.0,45.0 L406.4,45.0 L408.3,51.4 L411.4,56.5 L406.4,60.3 L402.5,67.9 L399.4,75.5 L394.9,74.3 L393.4,68.0 L400.0,68.0Z" fill="#dcdcff" stroke="#dcdcff" stroke-width="0.7"/>
<path d="M387.3,81.9 L392.4,79.4 L397.4,83.2 L396.8,90.8 L391.1,91.4 L387.3,87.0Z" fill="#dcdcff" stroke="#dcdcff" stroke-width="0.7"/>
<path d="M375.4,68.0 L379.6,68.0 L380.9,76.8 L383.5,83.2 L386.0,95.4 L375.4,95.4Z" fill="#7070ff" stroke="#7070ff" stroke-width="0.7"/>
<path d="M411.4,76.8 L416.5,74.9 L420.3,79.4 L419.7,87.0 L415.3,87.6 L412.1,83.2Z" fill="#dcdcff" stroke="#dcdcff" stroke-width="0.7"/>
<path d="M375.8,68.0 L396.2,68.0 L394.9,70.4 L391.1,76.8 L384.7,79.4 L379.6,76.8 L375.8,74.9Z" fill="#7070ff" stroke="#7070ff" stroke-width="0.7"/>
<path d="M422.9,80.6 L424.8,80.6 L424.8,85.7 L422.9,85.7Z" fill="#7070ff" stroke="#7070ff" stroke-width="0.7"/>
<path d="M375.8,68.0 L379.9,68.0 L378.1,75.3 L375.8,74.5Z" fill="#3c3cff" stroke="#3c3cff" stroke-width="0.7"/>
<path d="M388.3,68.0 L393.6,68.0 L391.1,72.0 L389.2,69.8Z" fill="#3c3cff" stroke="#3c3cff" stroke-width="0.7"/>
<path d="M383.5,68.0 L386.2,68.0 L384.7,73.6Z" fill="#ffa6a6" stroke="#ffa6a6" stroke-width="0.7"/>
</g>
<path d="M375.0,83.5 L379.3,83.0 L382.1,84.3 L384.0,85.9 L385.2,89.1 L387.9,91.7 L389.5,92.8 L391.1,96.0 L393.8,96.5 L396.1,96.0 L393.4,97.5 L391.1,99.1 L392.2,101.2 L394.2,103.9 L396.5,106.5 L398.9,107.6 L401.2,106.0 L403.6,103.9 L405.1,99.1 L406.3,102.8 L405.5,105.5 L406.1,109.7 L406.1,116.6 L406.7,121.9 L407.9,127.2 L409.8,134.6 L411.8,140.4 L413.8,148.3 L416.1,154.7 L417.7,157.9 L419.2,164.2 L420.8,170.0 L424.3,174.3 L426.7,170.6 L428.6,168.5 L430.6,167.9 L431.4,162.6 L433.5,162.6 L433.5,156.3 L435.3,147.8 L434.5,143.1 L434.9,137.8 L437.6,133.5 L439.2,130.9 L443.1,129.3 L444.3,126.1 L447.0,123.5 L450.2,120.3 L453.7,115.0 L456.8,112.4 L459.2,111.3 L461.5,107.6 L461.1,104.4 L464.2,102.8 L466.2,102.3 L469.3,102.3 L472.9,100.7 L475.2,98.6 L477.5,97.5 L480.3,99.1 L480.7,103.4 L481.9,106.5 L484.6,110.8 L487.3,115.0 L490.1,120.8 L490.9,125.6 L490.1,131.9 L492.8,133.5 L494.8,133.5 L497.9,129.3 L500.6,127.7 L503.0,129.8 L503.4,135.1 L505.3,145.7 L507.3,153.6" fill="none" stroke="#404040" stroke-width="1.25" stroke-linejoin="round"/>
<path d="M433.7,165.3 L435.3,165.3 L437.6,169.5 L438.8,172.2 L440.0,175.9 L441.1,180.1 L441.5,182.7" fill="none" stroke="#404040" stroke-width="1.25" stroke-linejoin="round"/>
<path d="M433.3,182.7 L433.5,180.1 L433.3,174.8 L433.7,169.5 L433.7,165.3" fill="none" stroke="#404040" stroke-width="1.25" stroke-linejoin="round"/>
</g>
<rect x="375.4" y="13.4" width="131.5" height="166.7" fill="none" stroke="#777" stroke-width="0.75"/>
<line x1="372.4" y1="31.9" x2="375.4" y2="31.9" stroke="#444" stroke-width="0.9"/>
<text x="370.4" y="36.5" font-size="10.1" fill="#3a3a3a" text-anchor="end" textLength="15.2" lengthAdjust="spacingAndGlyphs">35N</text>
<line x1="372.4" y1="58.4" x2="375.4" y2="58.4" stroke="#444" stroke-width="0.9"/>
<text x="370.4" y="63.0" font-size="10.1" fill="#3a3a3a" text-anchor="end" textLength="15.2" lengthAdjust="spacingAndGlyphs">30N</text>
<line x1="372.4" y1="84.8" x2="375.4" y2="84.8" stroke="#444" stroke-width="0.9"/>
<text x="370.4" y="89.4" font-size="10.1" fill="#3a3a3a" text-anchor="end" textLength="15.2" lengthAdjust="spacingAndGlyphs">25N</text>
<line x1="372.4" y1="111.3" x2="375.4" y2="111.3" stroke="#444" stroke-width="0.9"/>
<text x="370.4" y="115.9" font-size="10.1" fill="#3a3a3a" text-anchor="end" textLength="15.2" lengthAdjust="spacingAndGlyphs">20N</text>
<line x1="372.4" y1="137.8" x2="375.4" y2="137.8" stroke="#444" stroke-width="0.9"/>
<text x="370.4" y="142.4" font-size="10.1" fill="#3a3a3a" text-anchor="end" textLength="15.2" lengthAdjust="spacingAndGlyphs">15N</text>
<line x1="372.4" y1="164.2" x2="375.4" y2="164.2" stroke="#444" stroke-width="0.9"/>
<text x="370.4" y="168.8" font-size="10.1" fill="#3a3a3a" text-anchor="end" textLength="15.2" lengthAdjust="spacingAndGlyphs">10N</text>
<line x1="395.0" y1="180.1" x2="395.0" y2="183.1" stroke="#444" stroke-width="0.9"/>
<text x="395.0" y="192.3" font-size="10.1" fill="#3a3a3a" text-anchor="middle" textLength="14.6" lengthAdjust="spacingAndGlyphs">70E</text>
<line x1="414.5" y1="180.1" x2="414.5" y2="183.1" stroke="#444" stroke-width="0.9"/>
<text x="414.5" y="192.3" font-size="10.1" fill="#3a3a3a" text-anchor="middle" textLength="14.6" lengthAdjust="spacingAndGlyphs">75E</text>
<line x1="434.1" y1="180.1" x2="434.1" y2="183.1" stroke="#444" stroke-width="0.9"/>
<text x="434.1" y="192.3" font-size="10.1" fill="#3a3a3a" text-anchor="middle" textLength="14.6" lengthAdjust="spacingAndGlyphs">80E</text>
<line x1="453.7" y1="180.1" x2="453.7" y2="183.1" stroke="#444" stroke-width="0.9"/>
<text x="453.7" y="192.3" font-size="10.1" fill="#3a3a3a" text-anchor="middle" textLength="14.6" lengthAdjust="spacingAndGlyphs">85E</text>
<line x1="473.2" y1="180.1" x2="473.2" y2="183.1" stroke="#444" stroke-width="0.9"/>
<text x="473.2" y="192.3" font-size="10.1" fill="#3a3a3a" text-anchor="middle" textLength="14.6" lengthAdjust="spacingAndGlyphs">90E</text>
<line x1="492.8" y1="180.1" x2="492.8" y2="183.1" stroke="#444" stroke-width="0.9"/>
<text x="492.8" y="192.3" font-size="10.1" fill="#3a3a3a" text-anchor="middle" textLength="14.6" lengthAdjust="spacingAndGlyphs">95E</text>
<text x="440.6" y="9.0" font-size="8.4" fill="#707070" text-anchor="middle" textLength="58.9" lengthAdjust="spacingAndGlyphs">Future1−Present1</text>
<clipPath id="c4"><rect x="24.2" y="217.5" width="131.5" height="159.7"/></clipPath>
<g clip-path="url(#c4)">
<g filter="url(#bl)">
<rect x="21.2" y="214.5" width="137.5" height="165.7" fill="#dcdcff"/>
<path d="M24.3,230.1 L31.3,232.1 L36.3,226.4 L42.6,228.9 L47.6,238.9 L55.1,247.7 L62.6,256.4 L71.4,265.2 L76.4,269.7 L70.1,275.2 L61.4,280.7 L58.9,286.7 L24.3,286.7Z" fill="#ffdada" stroke="#ffdada" stroke-width="0.7"/>
<path d="M80.2,265.2 L85.2,258.9 L95.2,265.2 L105.2,263.9 L114.0,252.7 L120.3,248.9 L130.3,251.4 L136.6,243.9 L137.8,255.2 L139.8,272.7 L140.3,282.7 L137.8,286.7 L89.7,286.7 L90.7,277.7Z" fill="#ffdada" stroke="#ffdada" stroke-width="0.7"/>
<path d="M81.4,225.1 L92.7,230.1 L102.7,227.6 L112.8,225.1 L125.3,226.4 L133.3,233.1 L135.8,242.6 L130.3,252.7 L120.3,250.2 L112.8,255.2 L105.2,265.7 L95.2,267.2 L87.2,262.7 L82.7,252.7 L80.2,242.6Z" fill="#ffdada" stroke="#ffdada" stroke-width="0.7"/>
<path d="M54.6,215.1 L91.0,215.1 L91.0,240.2 L84.7,240.8 L78.4,237.0 L72.2,232.6 L65.9,229.5 L59.6,226.4 L56.5,221.4Z" fill="#ffdada" stroke="#ffdada" stroke-width="0.7"/>
<path d="M100.2,272.0 L106.5,267.0 L139.1,264.5 L141.6,269.5 L136.6,278.3 L126.6,279.5 L111.5,279.5 L101.5,277.0Z" fill="#ffdada" stroke="#ffdada" stroke-width="0.7"/>
<path d="M24.3,284.0 L55.1,284.0 L52.6,295.0 L49.6,304.6 L43.1,315.1 L35.6,327.1 L28.0,335.2 L24.3,338.9Z" fill="#ffdada" stroke="#ffdada" stroke-width="0.7"/>
<path d="M90.2,284.0 L125.4,284.0 L119.1,292.5 L109.1,300.6 L100.8,299.0 L95.3,292.5Z" fill="#ffdada" stroke="#ffdada" stroke-width="0.7"/>
<path d="M62.6,303.8 L65.7,303.8 L65.7,320.1 L63.2,320.1Z" fill="#ffdada" stroke="#ffdada" stroke-width="0.7"/>
<path d="M72.7,352.7 L76.4,352.7 L76.4,357.8 L72.7,357.8Z" fill="#ffdada" stroke="#ffdada" stroke-width="0.7"/>
<path d="M140.4,302.6 L145.4,302.6 L145.4,312.6 L140.9,312.6Z" fill="#ffdada" stroke="#ffdada" stroke-width="0.7"/>
<path d="M145.4,290.0 L155.5,290.0 L155.5,300.1 L146.7,300.1Z" fill="#ffdada" stroke="#ffdada" stroke-width="0.7"/>
<path d="M91.4,240.1 L102.7,241.4 L104.0,251.4 L94.0,252.7Z" fill="#dcdcff" stroke="#dcdcff" stroke-width="0.7"/>
<path d="M29.5,215.1 L33.3,215.1 L37.0,220.1 L42.1,227.6 L47.1,233.9 L50.8,238.9 L57.1,245.2 L64.6,251.4 L72.2,256.4 L79.7,260.2 L91.0,261.4 L91.0,264.1 L72.2,264.1 L64.6,261.4 L57.1,256.4 L50.8,251.4 L45.8,246.4 L42.1,241.4 L38.3,236.4 L33.3,231.4 L30.8,227.6 L29.5,222.6Z" fill="#dcdcff" stroke="#dcdcff" stroke-width="0.7"/>
<path d="M89.0,215.1 L156.7,215.1 L156.7,222.6 L147.9,222.6 L141.6,220.1 L136.6,222.6 L131.6,220.1 L126.6,220.7 L121.5,221.4 L116.5,223.9 L111.5,226.4 L106.5,230.1 L104.0,232.6 L96.5,233.9 L89.0,228.9Z" fill="#dcdcff" stroke="#dcdcff" stroke-width="0.7"/>
<path d="M136.6,222.6 L145.4,225.1 L156.7,222.6 L156.7,252.7 L149.1,255.2 L144.1,252.7 L141.6,246.4 L139.1,240.2 L136.6,230.1Z" fill="#dcdcff" stroke="#dcdcff" stroke-width="0.7"/>
<path d="M55.9,215.1 L77.2,215.1 L80.9,221.4 L85.9,224.5 L91.0,226.4 L91.0,238.3 L87.2,239.5 L82.2,237.6 L77.2,233.9 L72.2,230.1 L67.1,227.6 L62.1,225.1 L58.4,220.7Z" fill="#ffa6a6" stroke="#ffa6a6" stroke-width="0.7"/>
<path d="M30.8,256.4 L33.9,257.7 L35.2,264.1 L30.8,264.1Z" fill="#ffa6a6" stroke="#ffa6a6" stroke-width="0.7"/>
<path d="M89.0,227.0 L92.7,229.9 L97.7,234.9 L99.2,238.3 L95.2,239.7 L90.2,239.1 L89.0,238.4Z" fill="#ffa6a6" stroke="#ffa6a6" stroke-width="0.7"/>
<path d="M125.9,228.9 L130.3,229.9 L132.8,236.1 L132.2,242.7 L127.6,242.2 L125.1,237.6Z" fill="#ffa6a6" stroke="#ffa6a6" stroke-width="0.7"/>
<path d="M131.0,222.4 L132.8,222.6 L133.1,225.7 L131.3,225.7Z" fill="#ffa6a6" stroke="#ffa6a6" stroke-width="0.7"/>
<path d="M92.1,252.7 L97.7,253.9 L101.5,257.7 L102.7,264.1 L96.5,264.1 L94.0,258.9Z" fill="#ffa6a6" stroke="#ffa6a6" stroke-width="0.7"/>
<path d="M31.8,263.3 L35.2,263.9 L36.0,269.5 L34.8,276.8 L32.8,276.0 L31.5,269.5Z" fill="#ffa6a6" stroke="#ffa6a6" stroke-width="0.7"/>
<path d="M101.5,273.3 L106.5,269.5 L110.3,264.5 L114.0,263.9 L117.8,268.3 L122.8,266.4 L126.6,264.5 L130.3,267.7 L135.3,265.8 L139.1,267.0 L136.6,272.0 L132.8,275.8 L126.6,277.0 L119.0,277.7 L111.5,277.7 L105.2,275.8Z" fill="#ffa6a6" stroke="#ffa6a6" stroke-width="0.7"/>
<path d="M32.0,217.1 L52.0,217.1 L52.4,219.1 L53.7,223.2 L57.3,226.0 L63.3,227.0 L67.6,229.0 L73.7,233.1 L75.7,235.3 L75.3,238.6 L76.7,242.4 L80.8,247.3 L84.9,251.4 L89.9,252.6 L95.9,252.6 L95.9,267.0 L85.5,267.0 L77.9,264.0 L71.5,260.8 L65.2,257.0 L58.2,252.6 L51.2,247.5 L46.8,243.6 L44.2,239.3 L41.0,232.3 L36.9,225.2 L33.9,221.1Z" fill="#a6a6ff" stroke="#a6a6ff" stroke-width="0.7"/>
<path d="M102.7,218.2 L110.3,218.6 L115.3,222.0 L111.5,225.1 L105.2,226.4 L103.4,231.4 L96.5,231.6 L94.0,228.9 L99.0,226.4 L101.5,222.6Z" fill="#a6a6ff" stroke="#a6a6ff" stroke-width="0.7"/>
<path d="M117.2,215.1 L131.0,215.1 L127.8,220.1 L121.5,220.4Z" fill="#a6a6ff" stroke="#a6a6ff" stroke-width="0.7"/>
<path d="M124.1,258.3 L130.3,251.4 L135.3,245.2 L139.1,238.9 L142.9,236.6 L146.9,240.2 L144.1,246.4 L139.7,252.7 L136.0,258.3 L132.8,264.1 L124.7,264.1Z" fill="#a6a6ff" stroke="#a6a6ff" stroke-width="0.7"/>
<path d="M147.9,238.3 L154.1,237.6 L156.7,241.4 L156.7,252.7 L152.3,253.3 L149.1,247.7Z" fill="#a6a6ff" stroke="#a6a6ff" stroke-width="0.7"/>
<path d="M69.6,262.0 L78.4,262.0 L74.7,264.5 L70.9,263.9Z" fill="#a6a6ff" stroke="#a6a6ff" stroke-width="0.7"/>
<path d="M100.2,265.5 L105.2,265.8 L104.6,268.3 L100.9,268.3Z" fill="#a6a6ff" stroke="#a6a6ff" stroke-width="0.7"/>
<path d="M141.6,262.0 L155.4,262.0 L155.4,293.3 L151.6,292.7 L147.9,288.9 L142.9,285.2 L137.2,288.9 L135.3,284.6 L138.5,275.8Z" fill="#a6a6ff" stroke="#a6a6ff" stroke-width="0.7"/>
<path d="M56.4,342.7 L60.1,344.0 L63.9,352.7 L65.7,363.3 L62.6,365.8 L58.9,357.8 L56.4,350.2Z" fill="#a6a6ff" stroke="#a6a6ff" stroke-width="0.7"/>
<path d="M24.3,373.3 L32.5,369.3 L45.1,367.8 L57.6,370.3 L70.2,374.1 L79.0,378.3 L24.3,378.3Z" fill="#a6a6ff" stroke="#a6a6ff" stroke-width="0.7"/>
<path d="M104.8,378.3 L107.8,367.8 L113.3,362.8 L120.4,362.8 L125.9,367.8 L130.9,378.3Z" fill="#a6a6ff" stroke="#a6a6ff" stroke-width="0.7"/>
<path d="M139.9,378.3 L144.9,365.3 L147.4,350.7 L150.5,344.2 L155.5,342.7 L155.5,378.3Z" fill="#a6a6ff" stroke="#a6a6ff" stroke-width="0.7"/>
<path d="M59.6,217.0 L70.9,217.0 L75.9,220.7 L80.9,224.5 L85.9,227.0 L90.3,228.9 L91.0,233.9 L87.8,235.8 L83.4,234.5 L78.4,231.4 L72.2,227.6 L65.9,223.9 L61.5,220.7Z" fill="#ff7070" stroke="#ff7070" stroke-width="0.7"/>
<path d="M90.0,233.9 L94.6,235.1 L96.5,237.6 L92.7,238.3 L89.6,237.6Z" fill="#ff7070" stroke="#ff7070" stroke-width="0.7"/>
<path d="M96.5,257.1 L100.2,258.3 L101.5,264.1 L97.7,264.1Z" fill="#ff7070" stroke="#ff7070" stroke-width="0.7"/>
<path d="M151.0,258.3 L154.1,258.3 L154.8,264.1 L151.0,264.1Z" fill="#ff7070" stroke="#ff7070" stroke-width="0.7"/>
<path d="M33.0,265.1 L34.5,265.5 L34.9,271.4 L33.5,273.3 L32.8,269.5Z" fill="#ff7070" stroke="#ff7070" stroke-width="0.7"/>
<path d="M107.8,272.0 L111.5,265.8 L115.3,267.0 L116.8,274.5 L112.8,276.0 L109.0,274.5Z" fill="#ff7070" stroke="#ff7070" stroke-width="0.7"/>
<path d="M120.3,273.3 L125.3,268.3 L129.1,269.8 L132.8,273.5 L126.6,274.8Z" fill="#ff7070" stroke="#ff7070" stroke-width="0.7"/>
<path d="M32.9,217.1 L51.4,217.1 L51.2,219.1 L50.3,225.2 L46.3,232.5 L43.0,231.3 L40.0,227.7 L36.9,223.2Z" fill="#7070ff" stroke="#7070ff" stroke-width="0.7"/>
<path d="M47.1,239.4 L50.1,235.3 L53.2,231.3 L57.3,228.2 L61.3,226.7 L65.9,228.0 L70.5,231.1 L74.0,234.1 L74.5,237.2 L74.0,239.9 L75.5,243.4 L79.6,248.0 L83.7,251.6 L86.7,254.1 L83.7,257.6 L78.6,259.7 L73.5,259.1 L68.4,255.1 L63.3,251.0 L58.3,248.5 L52.2,245.0 L48.6,242.4Z" fill="#7070ff" stroke="#7070ff" stroke-width="0.7"/>
<path d="M81.0,257.0 L86.7,255.7 L91.8,257.6 L92.4,262.7 L86.7,264.6 L81.6,262.7Z" fill="#7070ff" stroke="#7070ff" stroke-width="0.7"/>
<path d="M105.2,219.5 L110.3,220.1 L114.0,222.0 L110.3,224.1 L106.5,223.6Z" fill="#7070ff" stroke="#7070ff" stroke-width="0.7"/>
<path d="M95.2,227.6 L102.7,227.0 L103.7,230.8 L97.7,230.8Z" fill="#7070ff" stroke="#7070ff" stroke-width="0.7"/>
<path d="M126.6,258.3 L132.8,251.4 L137.6,242.9 L141.6,238.9 L144.9,241.9 L141.6,247.9 L136.8,254.2 L133.1,260.4 L131.0,264.1 L127.2,264.1Z" fill="#7070ff" stroke="#7070ff" stroke-width="0.7"/>
<path d="M150.4,243.9 L154.8,243.9 L155.4,251.4 L151.6,251.7Z" fill="#7070ff" stroke="#7070ff" stroke-width="0.7"/>
<path d="M142.9,258.3 L147.9,257.7 L149.1,264.1 L144.1,264.1Z" fill="#7070ff" stroke="#7070ff" stroke-width="0.7"/>
<path d="M79.0,262.0 L91.0,262.0 L91.0,268.3 L83.4,267.7Z" fill="#7070ff" stroke="#7070ff" stroke-width="0.7"/>
<path d="M89.0,262.0 L94.0,262.0 L94.0,268.3 L89.0,269.5Z" fill="#7070ff" stroke="#7070ff" stroke-width="0.7"/>
<path d="M129.1,262.0 L134.1,262.0 L132.2,265.1 L129.7,264.8Z" fill="#7070ff" stroke="#7070ff" stroke-width="0.7"/>
<path d="M142.2,262.0 L155.4,262.0 L155.4,288.3 L150.4,287.1 L144.1,282.1 L139.1,284.6 L140.4,275.8Z" fill="#7070ff" stroke="#7070ff" stroke-width="0.7"/>
<path d="M152.5,347.7 L155.5,346.5 L155.5,367.8 L153.0,365.3Z" fill="#7070ff" stroke="#7070ff" stroke-width="0.7"/>
<path d="M63.4,220.7 L67.8,219.5 L71.5,222.0 L69.0,224.5 L65.3,223.9Z" fill="#ff3c3c" stroke="#ff3c3c" stroke-width="0.7"/>
<path d="M85.3,227.0 L89.7,227.6 L90.7,232.0 L86.6,232.6Z" fill="#ff3c3c" stroke="#ff3c3c" stroke-width="0.7"/>
<path d="M110.9,268.3 L113.6,267.0 L115.5,273.9 L111.8,274.8Z" fill="#ff3c3c" stroke="#ff3c3c" stroke-width="0.7"/>
<path d="M42.0,217.1 L50.1,217.1 L49.6,221.1 L49.1,224.7 L46.3,230.3 L44.0,228.2 L42.5,223.2Z" fill="#3c3cff" stroke="#3c3cff" stroke-width="0.7"/>
<path d="M53.2,233.3 L56.2,229.2 L61.3,227.2 L65.4,228.7 L69.4,232.3 L73.5,234.3 L75.0,236.3 L72.5,239.4 L73.5,243.4 L77.6,247.5 L81.6,252.6 L82.6,256.6 L78.6,259.1 L73.5,256.6 L68.4,252.6 L63.3,248.5 L58.3,245.5 L54.2,241.4 L52.7,237.4Z" fill="#3c3cff" stroke="#3c3cff" stroke-width="0.7"/>
<path d="M84.2,258.9 L89.3,258.3 L90.5,261.4 L86.7,262.7 L84.2,261.4Z" fill="#3c3cff" stroke="#3c3cff" stroke-width="0.7"/>
<path d="M139.4,239.5 L142.6,239.1 L144.1,242.7 L141.4,244.2Z" fill="#3c3cff" stroke="#3c3cff" stroke-width="0.7"/>
<path d="M129.1,258.3 L133.1,257.1 L134.1,261.7 L131.0,263.3Z" fill="#3c3cff" stroke="#3c3cff" stroke-width="0.7"/>
<path d="M89.0,257.7 L94.0,258.9 L94.6,264.1 L89.0,264.1Z" fill="#3c3cff" stroke="#3c3cff" stroke-width="0.7"/>
<path d="M142.9,262.0 L154.8,262.0 L154.1,274.5 L150.4,275.8 L145.4,273.3Z" fill="#3c3cff" stroke="#3c3cff" stroke-width="0.7"/>
<path d="M55.2,234.3 L57.8,230.5 L62.3,228.7 L64.9,230.3 L67.4,233.3 L69.4,235.3 L68.4,239.4 L70.5,243.4 L74.5,248.5 L79.6,254.1 L78.6,256.6 L74.5,254.6 L70.5,250.5 L65.4,247.0 L60.3,243.4 L56.2,239.4Z" fill="#0000f2" stroke="#0000f2" stroke-width="0.7"/>
<path d="M144.7,263.3 L148.5,263.3 L148.9,269.5 L145.6,269.8Z" fill="#0000f2" stroke="#0000f2" stroke-width="0.7"/>
</g>
<path d="M23.8,284.7 L28.1,284.2 L30.9,285.4 L32.8,287.0 L34.0,290.0 L36.7,292.5 L38.3,293.5 L39.9,296.6 L42.6,297.1 L44.9,296.6 L42.2,298.1 L39.9,299.6 L41.0,301.7 L43.0,304.2 L45.3,306.7 L47.7,307.7 L50.0,306.2 L52.4,304.2 L53.9,299.6 L55.1,303.2 L54.3,305.7 L54.9,309.8 L54.9,316.4 L55.5,321.4 L56.7,326.5 L58.6,333.6 L60.6,339.2 L62.6,346.8 L64.9,352.9 L66.5,355.9 L68.0,362.0 L69.6,367.6 L73.1,371.6 L75.5,368.1 L77.4,366.0 L79.4,365.5 L80.2,360.5 L82.3,360.5 L82.3,354.4 L84.1,346.3 L83.3,341.7 L83.7,336.6 L86.4,332.6 L88.0,330.1 L91.9,328.5 L93.1,325.5 L95.8,323.0 L99.0,319.9 L102.5,314.8 L105.6,312.3 L108.0,311.3 L110.3,307.7 L109.9,304.7 L113.0,303.2 L115.0,302.7 L118.1,302.7 L121.7,301.2 L124.0,299.1 L126.3,298.1 L129.1,299.6 L129.5,303.7 L130.7,306.7 L133.4,310.8 L136.1,314.8 L138.9,320.4 L139.7,325.0 L138.9,331.1 L141.6,332.6 L143.6,332.6 L146.7,328.5 L149.4,327.0 L151.8,329.0 L152.2,334.1 L154.1,344.2 L156.1,351.9" fill="none" stroke="#404040" stroke-width="1.25" stroke-linejoin="round"/>
<path d="M82.5,363.0 L84.1,363.0 L86.4,367.1 L87.6,369.6 L88.8,373.1 L90.0,377.2 L90.3,379.7" fill="none" stroke="#404040" stroke-width="1.25" stroke-linejoin="round"/>
<path d="M82.1,379.7 L82.3,377.2 L82.1,372.1 L82.5,367.1 L82.5,363.0" fill="none" stroke="#404040" stroke-width="1.25" stroke-linejoin="round"/>
</g>
<rect x="24.2" y="217.5" width="131.5" height="159.7" fill="none" stroke="#777" stroke-width="0.75"/>
<line x1="21.2" y1="235.2" x2="24.2" y2="235.2" stroke="#444" stroke-width="0.9"/>
<text x="19.2" y="239.8" font-size="10.1" fill="#3a3a3a" text-anchor="end" textLength="15.2" lengthAdjust="spacingAndGlyphs">35N</text>
<line x1="21.2" y1="260.6" x2="24.2" y2="260.6" stroke="#444" stroke-width="0.9"/>
<text x="19.2" y="265.2" font-size="10.1" fill="#3a3a3a" text-anchor="end" textLength="15.2" lengthAdjust="spacingAndGlyphs">30N</text>
<line x1="21.2" y1="285.9" x2="24.2" y2="285.9" stroke="#444" stroke-width="0.9"/>
<text x="19.2" y="290.5" font-size="10.1" fill="#3a3a3a" text-anchor="end" textLength="15.2" lengthAdjust="spacingAndGlyphs">25N</text>
<line x1="21.2" y1="311.3" x2="24.2" y2="311.3" stroke="#444" stroke-width="0.9"/>
<text x="19.2" y="315.9" font-size="10.1" fill="#3a3a3a" text-anchor="end" textLength="15.2" lengthAdjust="spacingAndGlyphs">20N</text>
<line x1="21.2" y1="336.6" x2="24.2" y2="336.6" stroke="#444" stroke-width="0.9"/>
<text x="19.2" y="341.2" font-size="10.1" fill="#3a3a3a" text-anchor="end" textLength="15.2" lengthAdjust="spacingAndGlyphs">15N</text>
<line x1="21.2" y1="362.0" x2="24.2" y2="362.0" stroke="#444" stroke-width="0.9"/>
<text x="19.2" y="366.6" font-size="10.1" fill="#3a3a3a" text-anchor="end" textLength="15.2" lengthAdjust="spacingAndGlyphs">10N</text>
<line x1="43.8" y1="377.2" x2="43.8" y2="380.2" stroke="#444" stroke-width="0.9"/>
<text x="43.8" y="389.4" font-size="10.1" fill="#3a3a3a" text-anchor="middle" textLength="14.6" lengthAdjust="spacingAndGlyphs">70E</text>
<line x1="63.3" y1="377.2" x2="63.3" y2="380.2" stroke="#444" stroke-width="0.9"/>
<text x="63.3" y="389.4" font-size="10.1" fill="#3a3a3a" text-anchor="middle" textLength="14.6" lengthAdjust="spacingAndGlyphs">75E</text>
<line x1="82.9" y1="377.2" x2="82.9" y2="380.2" stroke="#444" stroke-width="0.9"/>
<text x="82.9" y="389.4" font-size="10.1" fill="#3a3a3a" text-anchor="middle" textLength="14.6" lengthAdjust="spacingAndGlyphs">80E</text>
<line x1="102.5" y1="377.2" x2="102.5" y2="380.2" stroke="#444" stroke-width="0.9"/>
<text x="102.5" y="389.4" font-size="10.1" fill="#3a3a3a" text-anchor="middle" textLength="14.6" lengthAdjust="spacingAndGlyphs">85E</text>
<line x1="122.0" y1="377.2" x2="122.0" y2="380.2" stroke="#444" stroke-width="0.9"/>
<text x="122.0" y="389.4" font-size="10.1" fill="#3a3a3a" text-anchor="middle" textLength="14.6" lengthAdjust="spacingAndGlyphs">90E</text>
<line x1="141.6" y1="377.2" x2="141.6" y2="380.2" stroke="#444" stroke-width="0.9"/>
<text x="141.6" y="389.4" font-size="10.1" fill="#3a3a3a" text-anchor="middle" textLength="14.6" lengthAdjust="spacingAndGlyphs">95E</text>
<text x="90.2" y="213.5" font-size="8.4" fill="#707070" text-anchor="middle" textLength="70.6" lengthAdjust="spacingAndGlyphs">Future1(2051−2080)</text>
<clipPath id="c5"><rect x="178.9" y="217.5" width="128.1" height="160.0"/></clipPath>
<g clip-path="url(#c5)">
<g filter="url(#bl)">
<rect x="175.9" y="214.5" width="134.1" height="166.0" fill="#dcdcff"/>
<path d="M179.0,230.2 L185.8,232.2 L190.7,226.4 L196.8,228.9 L201.7,238.9 L209.0,247.7 L216.3,256.5 L224.9,265.3 L229.8,269.8 L223.7,275.3 L215.1,280.8 L212.7,286.9 L179.0,286.9Z" fill="#ffdada" stroke="#ffdada" stroke-width="0.7"/>
<path d="M233.4,265.3 L238.3,259.0 L248.1,265.3 L257.8,264.0 L266.4,252.7 L272.5,249.0 L282.3,251.5 L288.4,244.0 L289.6,255.2 L291.5,272.8 L292.0,282.8 L289.6,286.9 L242.7,286.9 L243.7,277.8Z" fill="#ffdada" stroke="#ffdada" stroke-width="0.7"/>
<path d="M234.6,225.1 L245.6,230.2 L255.4,227.6 L265.2,225.1 L277.4,226.4 L285.2,233.2 L287.6,242.7 L282.3,252.7 L272.5,250.2 L265.2,255.2 L257.8,265.8 L248.1,267.3 L240.3,262.8 L235.9,252.7 L233.4,242.7Z" fill="#ffdada" stroke="#ffdada" stroke-width="0.7"/>
<path d="M208.5,215.1 L243.9,215.1 L243.9,240.2 L237.8,240.8 L231.7,237.1 L225.6,232.7 L219.5,229.5 L213.4,226.4 L210.3,221.4Z" fill="#ffdada" stroke="#ffdada" stroke-width="0.7"/>
<path d="M253.0,272.1 L259.1,267.1 L290.8,264.6 L293.3,269.6 L288.4,278.4 L278.6,279.7 L264.0,279.7 L254.2,277.2Z" fill="#ffdada" stroke="#ffdada" stroke-width="0.7"/>
<path d="M178.8,284.0 L211.6,284.0 L209.1,295.0 L204.1,305.1 L199.1,315.1 L194.1,327.6 L186.5,340.2 L181.5,347.7 L178.8,350.2Z" fill="#ffdada" stroke="#ffdada" stroke-width="0.7"/>
<path d="M245.5,284.0 L280.6,284.0 L276.9,292.5 L271.8,300.1 L261.8,305.1 L254.8,312.6 L249.3,305.1 L245.5,295.0Z" fill="#ffdada" stroke="#ffdada" stroke-width="0.7"/>
<path d="M265.6,307.6 L274.4,308.1 L273.8,317.6 L266.3,317.1Z" fill="#ffdada" stroke="#ffdada" stroke-width="0.7"/>
<path d="M214.1,302.6 L219.2,302.6 L219.2,322.6 L214.6,322.6Z" fill="#ffdada" stroke="#ffdada" stroke-width="0.7"/>
<path d="M220.4,335.2 L227.9,335.2 L227.9,340.2 L220.4,340.2Z" fill="#ffdada" stroke="#ffdada" stroke-width="0.7"/>
<path d="M225.4,349.0 L231.7,349.0 L231.7,360.3 L226.2,360.3Z" fill="#ffdada" stroke="#ffdada" stroke-width="0.7"/>
<path d="M291.9,302.6 L296.9,302.6 L296.9,315.1 L292.4,315.1Z" fill="#ffdada" stroke="#ffdada" stroke-width="0.7"/>
<path d="M301.9,295.0 L307.2,295.0 L307.2,322.6 L302.4,322.6Z" fill="#ffdada" stroke="#ffdada" stroke-width="0.7"/>
<path d="M244.4,240.2 L255.4,241.4 L256.6,251.5 L246.9,252.7Z" fill="#dcdcff" stroke="#dcdcff" stroke-width="0.7"/>
<path d="M184.1,215.1 L187.8,215.1 L191.4,220.1 L196.3,227.6 L201.2,233.9 L204.8,238.9 L211.0,245.2 L218.3,251.5 L225.6,256.5 L232.9,260.3 L243.9,261.5 L243.9,264.2 L225.6,264.2 L218.3,261.5 L211.0,256.5 L204.8,251.5 L200.0,246.5 L196.3,241.4 L192.6,236.4 L187.8,231.4 L185.3,227.6 L184.1,222.6Z" fill="#dcdcff" stroke="#dcdcff" stroke-width="0.7"/>
<path d="M242.0,215.1 L307.9,215.1 L307.9,222.6 L299.4,222.6 L293.3,220.1 L288.4,222.6 L283.5,220.1 L278.6,220.7 L273.7,221.4 L268.8,223.9 L264.0,226.4 L259.1,230.2 L256.6,232.7 L249.3,233.9 L242.0,228.9Z" fill="#dcdcff" stroke="#dcdcff" stroke-width="0.7"/>
<path d="M288.4,222.6 L296.9,225.1 L307.9,222.6 L307.9,252.7 L300.6,255.3 L295.7,252.7 L293.3,246.5 L290.8,240.2 L288.4,230.2Z" fill="#dcdcff" stroke="#dcdcff" stroke-width="0.7"/>
<path d="M209.7,215.1 L230.5,215.1 L234.2,221.4 L239.0,224.5 L243.9,226.4 L243.9,238.3 L240.3,239.6 L235.4,237.7 L230.5,233.9 L225.6,230.2 L220.7,227.6 L215.8,225.1 L212.2,220.7Z" fill="#ffa6a6" stroke="#ffa6a6" stroke-width="0.7"/>
<path d="M185.3,256.5 L188.4,257.8 L189.6,264.2 L185.3,264.2Z" fill="#ffa6a6" stroke="#ffa6a6" stroke-width="0.7"/>
<path d="M242.0,227.0 L245.6,229.9 L250.5,234.9 L252.0,238.3 L248.1,239.7 L243.2,239.2 L242.0,238.4Z" fill="#ffa6a6" stroke="#ffa6a6" stroke-width="0.7"/>
<path d="M278.0,228.9 L282.3,229.9 L284.7,236.2 L284.1,242.7 L279.6,242.2 L277.2,237.7Z" fill="#ffa6a6" stroke="#ffa6a6" stroke-width="0.7"/>
<path d="M282.9,222.4 L284.7,222.6 L285.0,225.8 L283.3,225.8Z" fill="#ffa6a6" stroke="#ffa6a6" stroke-width="0.7"/>
<path d="M245.0,252.7 L250.5,254.0 L254.2,257.8 L255.4,264.2 L249.3,264.2 L246.9,259.0Z" fill="#ffa6a6" stroke="#ffa6a6" stroke-width="0.7"/>
<path d="M186.3,263.4 L189.6,264.0 L190.4,269.6 L189.2,276.9 L187.3,276.2 L186.0,269.6Z" fill="#ffa6a6" stroke="#ffa6a6" stroke-width="0.7"/>
<path d="M254.2,273.4 L259.1,269.6 L262.7,264.6 L266.4,264.0 L270.1,268.4 L275.0,266.5 L278.6,264.6 L282.3,267.7 L287.2,265.9 L290.8,267.1 L288.4,272.1 L284.7,275.9 L278.6,277.2 L271.3,277.8 L264.0,277.8 L257.9,275.9Z" fill="#ffa6a6" stroke="#ffa6a6" stroke-width="0.7"/>
<path d="M186.5,217.1 L206.0,217.1 L206.3,219.1 L207.6,223.2 L211.1,226.0 L217.0,227.0 L221.2,229.1 L227.1,233.1 L229.1,235.4 L228.7,238.6 L230.1,242.5 L234.0,247.4 L238.0,251.4 L242.9,252.6 L248.8,252.6 L248.8,267.1 L238.6,267.1 L231.2,264.1 L224.9,260.9 L218.8,257.1 L212.0,252.6 L205.2,247.6 L200.9,243.7 L198.3,239.3 L195.3,232.3 L191.3,225.2 L188.3,221.1Z" fill="#a6a6ff" stroke="#a6a6ff" stroke-width="0.7"/>
<path d="M255.4,218.2 L262.7,218.6 L267.6,222.0 L264.0,225.1 L257.9,226.4 L256.0,231.4 L249.3,231.7 L246.9,228.9 L251.7,226.4 L254.2,222.6Z" fill="#a6a6ff" stroke="#a6a6ff" stroke-width="0.7"/>
<path d="M269.5,215.1 L282.9,215.1 L279.8,220.1 L273.7,220.4Z" fill="#a6a6ff" stroke="#a6a6ff" stroke-width="0.7"/>
<path d="M276.2,258.4 L282.3,251.5 L287.2,245.2 L290.8,238.9 L294.5,236.7 L298.4,240.2 L295.7,246.5 L291.4,252.7 L287.8,258.4 L284.7,264.2 L276.8,264.2Z" fill="#a6a6ff" stroke="#a6a6ff" stroke-width="0.7"/>
<path d="M299.4,238.3 L305.5,237.7 L307.9,241.4 L307.9,252.7 L303.7,253.4 L300.6,247.7Z" fill="#a6a6ff" stroke="#a6a6ff" stroke-width="0.7"/>
<path d="M223.2,262.1 L231.7,262.1 L228.1,264.6 L224.4,264.0Z" fill="#a6a6ff" stroke="#a6a6ff" stroke-width="0.7"/>
<path d="M253.0,265.6 L257.9,265.9 L257.2,268.4 L253.6,268.4Z" fill="#a6a6ff" stroke="#a6a6ff" stroke-width="0.7"/>
<path d="M293.3,262.1 L306.7,262.1 L306.7,293.5 L303.0,292.8 L299.4,289.1 L294.5,285.3 L289.0,289.1 L287.2,284.7 L290.2,275.9Z" fill="#a6a6ff" stroke="#a6a6ff" stroke-width="0.7"/>
<path d="M298.2,378.3 L299.4,360.3 L300.7,345.2 L304.5,341.4 L307.2,341.4 L307.2,378.3Z" fill="#a6a6ff" stroke="#a6a6ff" stroke-width="0.7"/>
<path d="M189.1,375.8 L199.1,375.3 L199.1,378.3 L189.1,378.3Z" fill="#a6a6ff" stroke="#a6a6ff" stroke-width="0.7"/>
<path d="M213.4,217.0 L224.4,217.0 L229.3,220.7 L234.2,224.5 L239.0,227.0 L243.3,228.9 L243.9,233.9 L240.9,235.8 L236.6,234.5 L231.7,231.4 L225.6,227.6 L219.5,223.9 L215.2,220.7Z" fill="#ff7070" stroke="#ff7070" stroke-width="0.7"/>
<path d="M243.0,233.9 L247.5,235.2 L249.3,237.7 L245.6,238.3 L242.6,237.7Z" fill="#ff7070" stroke="#ff7070" stroke-width="0.7"/>
<path d="M249.3,257.1 L253.0,258.4 L254.2,264.2 L250.5,264.2Z" fill="#ff7070" stroke="#ff7070" stroke-width="0.7"/>
<path d="M302.4,258.4 L305.5,258.4 L306.1,264.2 L302.4,264.2Z" fill="#ff7070" stroke="#ff7070" stroke-width="0.7"/>
<path d="M187.5,265.2 L189.0,265.6 L189.3,271.5 L188.0,273.4 L187.3,269.6Z" fill="#ff7070" stroke="#ff7070" stroke-width="0.7"/>
<path d="M260.3,272.1 L264.0,265.9 L267.6,267.1 L269.1,274.6 L265.2,276.2 L261.5,274.6Z" fill="#ff7070" stroke="#ff7070" stroke-width="0.7"/>
<path d="M272.5,273.4 L277.4,268.4 L281.1,269.9 L284.7,273.6 L278.6,274.9Z" fill="#ff7070" stroke="#ff7070" stroke-width="0.7"/>
<path d="M187.4,217.1 L205.4,217.1 L205.2,219.1 L204.4,225.2 L200.4,232.5 L197.2,231.3 L194.3,227.7 L191.3,223.2Z" fill="#7070ff" stroke="#7070ff" stroke-width="0.7"/>
<path d="M201.2,239.4 L204.2,235.4 L207.1,231.3 L211.1,228.2 L215.1,226.7 L219.5,228.0 L224.0,231.1 L227.4,234.1 L227.9,237.2 L227.4,239.9 L228.9,243.5 L232.9,248.1 L236.8,251.6 L239.8,254.2 L236.8,257.7 L231.9,259.8 L226.9,259.1 L222.0,255.2 L217.0,251.1 L212.1,248.6 L206.2,245.0 L202.7,242.5Z" fill="#7070ff" stroke="#7070ff" stroke-width="0.7"/>
<path d="M234.2,257.1 L239.8,255.8 L244.7,257.7 L245.4,262.8 L239.8,264.7 L234.9,262.8Z" fill="#7070ff" stroke="#7070ff" stroke-width="0.7"/>
<path d="M257.9,219.5 L262.7,220.1 L266.4,222.0 L262.7,224.1 L259.1,223.6Z" fill="#7070ff" stroke="#7070ff" stroke-width="0.7"/>
<path d="M248.1,227.6 L255.4,227.0 L256.4,230.8 L250.5,230.8Z" fill="#7070ff" stroke="#7070ff" stroke-width="0.7"/>
<path d="M278.6,258.4 L284.7,251.5 L289.4,243.0 L293.3,238.9 L296.4,242.0 L293.3,248.0 L288.6,254.2 L285.0,260.5 L282.9,264.2 L279.2,264.2Z" fill="#7070ff" stroke="#7070ff" stroke-width="0.7"/>
<path d="M301.8,244.0 L306.1,244.0 L306.7,251.5 L303.0,251.7Z" fill="#7070ff" stroke="#7070ff" stroke-width="0.7"/>
<path d="M294.5,258.4 L299.4,257.8 L300.6,264.2 L295.7,264.2Z" fill="#7070ff" stroke="#7070ff" stroke-width="0.7"/>
<path d="M232.3,262.1 L243.9,262.1 L243.9,268.4 L236.6,267.7Z" fill="#7070ff" stroke="#7070ff" stroke-width="0.7"/>
<path d="M242.0,262.1 L246.9,262.1 L246.9,268.4 L242.0,269.6Z" fill="#7070ff" stroke="#7070ff" stroke-width="0.7"/>
<path d="M281.1,262.1 L285.9,262.1 L284.1,265.2 L281.7,264.9Z" fill="#7070ff" stroke="#7070ff" stroke-width="0.7"/>
<path d="M293.9,262.1 L306.7,262.1 L306.7,288.4 L301.8,287.2 L295.7,282.2 L290.8,284.7 L292.1,275.9Z" fill="#7070ff" stroke="#7070ff" stroke-width="0.7"/>
<path d="M303.2,352.7 L307.2,351.5 L307.2,372.8 L304.0,370.3Z" fill="#7070ff" stroke="#7070ff" stroke-width="0.7"/>
<path d="M217.1,220.7 L221.3,219.5 L225.0,222.0 L222.6,224.5 L218.9,223.9Z" fill="#ff3c3c" stroke="#ff3c3c" stroke-width="0.7"/>
<path d="M238.4,227.0 L242.7,227.6 L243.7,232.0 L239.7,232.7Z" fill="#ff3c3c" stroke="#ff3c3c" stroke-width="0.7"/>
<path d="M263.3,268.4 L266.0,267.1 L267.9,274.0 L264.2,274.9Z" fill="#ff3c3c" stroke="#ff3c3c" stroke-width="0.7"/>
<path d="M196.3,217.1 L204.2,217.1 L203.7,221.1 L203.2,224.7 L200.4,230.3 L198.2,228.2 L196.8,223.2Z" fill="#3c3cff" stroke="#3c3cff" stroke-width="0.7"/>
<path d="M207.1,233.3 L210.1,229.3 L215.1,227.2 L219.0,228.8 L223.0,232.3 L226.9,234.3 L228.4,236.4 L225.9,239.4 L226.9,243.5 L230.9,247.6 L234.8,252.6 L235.8,256.7 L231.9,259.1 L226.9,256.7 L222.0,252.6 L217.0,248.6 L212.1,245.5 L208.1,241.5 L206.6,237.4Z" fill="#3c3cff" stroke="#3c3cff" stroke-width="0.7"/>
<path d="M237.3,259.0 L242.3,258.3 L243.5,261.5 L239.8,262.8 L237.3,261.5Z" fill="#3c3cff" stroke="#3c3cff" stroke-width="0.7"/>
<path d="M291.1,239.6 L294.2,239.2 L295.7,242.7 L293.0,244.2Z" fill="#3c3cff" stroke="#3c3cff" stroke-width="0.7"/>
<path d="M281.1,258.4 L285.0,257.1 L285.9,261.8 L282.9,263.4Z" fill="#3c3cff" stroke="#3c3cff" stroke-width="0.7"/>
<path d="M242.0,257.8 L246.9,259.0 L247.5,264.2 L242.0,264.2Z" fill="#3c3cff" stroke="#3c3cff" stroke-width="0.7"/>
<path d="M294.5,262.1 L306.1,262.1 L305.5,274.6 L301.8,275.9 L296.9,273.4Z" fill="#3c3cff" stroke="#3c3cff" stroke-width="0.7"/>
<path d="M209.1,234.3 L211.6,230.5 L216.0,228.8 L218.5,230.3 L221.0,233.3 L223.0,235.4 L222.0,239.4 L224.0,243.5 L227.9,248.6 L232.9,254.2 L231.9,256.7 L227.9,254.7 L224.0,250.6 L219.0,247.0 L214.1,243.5 L210.1,239.4Z" fill="#0000f2" stroke="#0000f2" stroke-width="0.7"/>
<path d="M296.3,263.4 L300.0,263.4 L300.4,269.6 L297.2,269.9Z" fill="#0000f2" stroke="#0000f2" stroke-width="0.7"/>
</g>
<path d="M178.5,284.8 L182.7,284.3 L185.4,285.6 L187.3,287.1 L188.4,290.1 L191.1,292.7 L192.6,293.7 L194.2,296.7 L196.8,297.2 L199.1,296.7 L196.4,298.3 L194.2,299.8 L195.3,301.8 L197.2,304.4 L199.5,306.9 L201.8,307.9 L204.1,306.4 L206.4,304.4 L207.9,299.8 L209.0,303.3 L208.3,305.9 L208.8,309.9 L208.8,316.5 L209.4,321.6 L210.5,326.7 L212.4,333.8 L214.4,339.4 L216.3,347.0 L218.6,353.1 L220.1,356.2 L221.6,362.3 L223.1,367.8 L226.6,371.9 L228.8,368.4 L230.8,366.3 L232.7,365.8 L233.4,360.7 L235.5,360.7 L235.5,354.6 L237.2,346.5 L236.5,341.9 L236.9,336.9 L239.5,332.8 L241.0,330.3 L244.9,328.7 L246.0,325.7 L248.7,323.2 L251.7,320.1 L255.2,315.0 L258.2,312.5 L260.5,311.5 L262.8,307.9 L262.4,304.9 L265.4,303.3 L267.4,302.8 L270.4,302.8 L273.8,301.3 L276.1,299.3 L278.4,298.3 L281.1,299.8 L281.5,303.8 L282.6,306.9 L285.3,311.0 L287.9,315.0 L290.6,320.6 L291.4,325.2 L290.6,331.3 L293.3,332.8 L295.2,332.8 L298.2,328.7 L300.9,327.2 L303.2,329.2 L303.6,334.3 L305.5,344.5 L307.4,352.1" fill="none" stroke="#404040" stroke-width="1.25" stroke-linejoin="round"/>
<path d="M235.7,363.3 L237.2,363.3 L239.5,367.3 L240.7,369.9 L241.8,373.4 L242.9,377.5 L243.3,380.0" fill="none" stroke="#404040" stroke-width="1.25" stroke-linejoin="round"/>
<path d="M235.3,380.0 L235.5,377.5 L235.3,372.4 L235.7,367.3 L235.7,363.3" fill="none" stroke="#404040" stroke-width="1.25" stroke-linejoin="round"/>
</g>
<rect x="178.9" y="217.5" width="128.1" height="160.0" fill="none" stroke="#777" stroke-width="0.75"/>
<line x1="175.9" y1="235.3" x2="178.9" y2="235.3" stroke="#444" stroke-width="0.9"/>
<text x="173.9" y="239.9" font-size="10.1" fill="#3a3a3a" text-anchor="end" textLength="15.2" lengthAdjust="spacingAndGlyphs">35N</text>
<line x1="175.9" y1="260.7" x2="178.9" y2="260.7" stroke="#444" stroke-width="0.9"/>
<text x="173.9" y="265.3" font-size="10.1" fill="#3a3a3a" text-anchor="end" textLength="15.2" lengthAdjust="spacingAndGlyphs">30N</text>
<line x1="175.9" y1="286.1" x2="178.9" y2="286.1" stroke="#444" stroke-width="0.9"/>
<text x="173.9" y="290.7" font-size="10.1" fill="#3a3a3a" text-anchor="end" textLength="15.2" lengthAdjust="spacingAndGlyphs">25N</text>
<line x1="175.9" y1="311.5" x2="178.9" y2="311.5" stroke="#444" stroke-width="0.9"/>
<text x="173.9" y="316.1" font-size="10.1" fill="#3a3a3a" text-anchor="end" textLength="15.2" lengthAdjust="spacingAndGlyphs">20N</text>
<line x1="175.9" y1="336.9" x2="178.9" y2="336.9" stroke="#444" stroke-width="0.9"/>
<text x="173.9" y="341.5" font-size="10.1" fill="#3a3a3a" text-anchor="end" textLength="15.2" lengthAdjust="spacingAndGlyphs">15N</text>
<line x1="175.9" y1="362.3" x2="178.9" y2="362.3" stroke="#444" stroke-width="0.9"/>
<text x="173.9" y="366.9" font-size="10.1" fill="#3a3a3a" text-anchor="end" textLength="15.2" lengthAdjust="spacingAndGlyphs">10N</text>
<line x1="198.0" y1="377.5" x2="198.0" y2="380.5" stroke="#444" stroke-width="0.9"/>
<text x="198.0" y="389.7" font-size="10.1" fill="#3a3a3a" text-anchor="middle" textLength="14.6" lengthAdjust="spacingAndGlyphs">70E</text>
<line x1="217.0" y1="377.5" x2="217.0" y2="380.5" stroke="#444" stroke-width="0.9"/>
<text x="217.0" y="389.7" font-size="10.1" fill="#3a3a3a" text-anchor="middle" textLength="14.6" lengthAdjust="spacingAndGlyphs">75E</text>
<line x1="236.1" y1="377.5" x2="236.1" y2="380.5" stroke="#444" stroke-width="0.9"/>
<text x="236.1" y="389.7" font-size="10.1" fill="#3a3a3a" text-anchor="middle" textLength="14.6" lengthAdjust="spacingAndGlyphs">80E</text>
<line x1="255.2" y1="377.5" x2="255.2" y2="380.5" stroke="#444" stroke-width="0.9"/>
<text x="255.2" y="389.7" font-size="10.1" fill="#3a3a3a" text-anchor="middle" textLength="14.6" lengthAdjust="spacingAndGlyphs">85E</text>
<line x1="274.2" y1="377.5" x2="274.2" y2="380.5" stroke="#444" stroke-width="0.9"/>
<text x="274.2" y="389.7" font-size="10.1" fill="#3a3a3a" text-anchor="middle" textLength="14.6" lengthAdjust="spacingAndGlyphs">90E</text>
<line x1="293.3" y1="377.5" x2="293.3" y2="380.5" stroke="#444" stroke-width="0.9"/>
<text x="293.3" y="389.7" font-size="10.1" fill="#3a3a3a" text-anchor="middle" textLength="14.6" lengthAdjust="spacingAndGlyphs">95E</text>
<text x="242.5" y="213.5" font-size="8.4" fill="#707070" text-anchor="middle" textLength="67.9" lengthAdjust="spacingAndGlyphs">Future2(2081−2110)</text>
<clipPath id="c6"><rect x="375.4" y="217.5" width="131.5" height="159.6"/></clipPath>
<g clip-path="url(#c6)">
<g filter="url(#bl)">
<rect x="372.4" y="214.5" width="137.5" height="165.6" fill="#dcdcff"/>
<path d="M375.3,217.5 L377.8,217.5 L377.8,255.0 L375.3,256.5Z" fill="#ffdada" stroke="#ffdada" stroke-width="0.7"/>
<path d="M385.7,217.5 L392.1,217.5 L391.5,230.3 L386.5,230.3Z" fill="#ffdada" stroke="#ffdada" stroke-width="0.7"/>
<path d="M428.3,217.5 L442.0,217.5 L442.0,223.3 L429.8,222.3 L427.6,220.4Z" fill="#ffdada" stroke="#ffdada" stroke-width="0.7"/>
<path d="M401.7,240.2 L407.3,228.8 L414.9,227.1 L422.2,229.4 L427.1,233.5 L428.9,238.7 L426.2,241.6 L430.1,245.4 L434.7,248.9 L439.3,253.3 L442.0,255.3 L442.0,266.0 L435.9,265.2 L429.5,262.3 L421.9,258.0 L414.3,255.3 L407.9,251.0 L402.4,246.3Z" fill="#ffdada" stroke="#ffdada" stroke-width="0.7"/>
<path d="M440.0,217.5 L497.8,217.5 L496.3,220.4 L490.2,223.0 L478.1,223.3 L462.8,223.0 L449.1,223.3 L440.0,223.3Z" fill="#ffdada" stroke="#ffdada" stroke-width="0.7"/>
<path d="M485.7,241.9 L490.2,233.2 L495.6,228.8 L500.9,225.2 L507.0,223.3 L507.0,260.9 L500.9,258.0 L493.3,253.6 L487.2,249.2Z" fill="#ffdada" stroke="#ffdada" stroke-width="0.7"/>
<path d="M453.7,250.7 L468.9,249.2 L475.0,258.0 L490.2,255.0 L494.0,258.0 L493.3,263.8 L482.6,263.8 L470.4,262.3 L459.8,260.9 L453.7,262.3Z" fill="#ffdada" stroke="#ffdada" stroke-width="0.7"/>
<path d="M440.0,256.5 L449.1,257.2 L449.1,265.2 L440.0,265.2Z" fill="#ffdada" stroke="#ffdada" stroke-width="0.7"/>
<path d="M500.9,263.8 L507.0,262.3 L507.0,272.8 L500.9,272.8Z" fill="#ffdada" stroke="#ffdada" stroke-width="0.7"/>
<path d="M403.2,325.4 L408.5,331.2 L414.6,338.5 L422.2,341.4 L429.8,348.7 L431.4,357.4 L429.8,366.2 L425.3,373.5 L422.2,377.1 L410.1,377.1 L407.0,363.3 L404.7,348.7 L403.2,337.0Z" fill="#ffdada" stroke="#ffdada" stroke-width="0.7"/>
<path d="M435.9,318.7 L442.0,318.7 L442.0,337.8 L436.7,337.0Z" fill="#ffdada" stroke="#ffdada" stroke-width="0.7"/>
<path d="M440.0,318.7 L507.0,318.7 L507.0,377.1 L440.0,377.1Z" fill="#ffdada" stroke="#ffdada" stroke-width="0.7"/>
<path d="M388.7,252.4 L391.2,254.3 L391.5,258.0 L389.0,257.4Z" fill="#dcdcff" stroke="#dcdcff" stroke-width="0.7"/>
<path d="M462.8,234.9 L470.4,234.4 L469.7,237.6 L462.8,237.9Z" fill="#dcdcff" stroke="#dcdcff" stroke-width="0.7"/>
<path d="M443.0,245.1 L452.2,244.8 L451.9,249.2 L443.8,249.2Z" fill="#dcdcff" stroke="#dcdcff" stroke-width="0.7"/>
<path d="M468.9,248.1 L475.3,248.1 L474.7,258.0 L469.7,257.7Z" fill="#dcdcff" stroke="#dcdcff" stroke-width="0.7"/>
<path d="M467.4,318.7 L485.7,318.7 L484.1,322.5 L468.9,322.5Z" fill="#dcdcff" stroke="#dcdcff" stroke-width="0.7"/>
<path d="M440.0,351.6 L449.1,353.1 L458.3,360.4 L464.4,367.6 L465.9,377.1 L440.0,377.1Z" fill="#dcdcff" stroke="#dcdcff" stroke-width="0.7"/>
<path d="M387.2,217.9 L390.9,217.9 L390.3,226.6 L388.1,226.6Z" fill="#ffa6a6" stroke="#ffa6a6" stroke-width="0.7"/>
<path d="M384.2,265.2 L386.5,265.2 L386.6,272.8 L384.5,272.8Z" fill="#ffa6a6" stroke="#ffa6a6" stroke-width="0.7"/>
<path d="M436.7,218.6 L439.7,218.6 L439.7,221.5 L437.1,221.5Z" fill="#ffa6a6" stroke="#ffa6a6" stroke-width="0.7"/>
<path d="M402.7,240.2 L407.9,229.4 L414.9,227.9 L421.6,230.3 L426.2,234.1 L427.7,238.7 L425.0,241.9 L428.9,246.0 L433.5,249.8 L438.1,254.2 L442.0,256.5 L442.0,264.5 L435.9,264.1 L429.8,261.2 L422.2,256.8 L414.6,254.2 L408.5,249.8 L403.4,245.4Z" fill="#ffa6a6" stroke="#ffa6a6" stroke-width="0.7"/>
<path d="M440.0,217.5 L458.3,217.5 L457.5,220.4 L449.1,220.9 L440.0,220.7Z" fill="#ffa6a6" stroke="#ffa6a6" stroke-width="0.7"/>
<path d="M470.4,217.5 L494.8,217.5 L493.3,220.1 L472.0,220.1Z" fill="#ffa6a6" stroke="#ffa6a6" stroke-width="0.7"/>
<path d="M490.2,240.8 L494.8,234.6 L500.9,230.3 L507.0,228.5 L507.0,256.5 L500.9,253.6 L493.3,249.2 L489.0,246.3Z" fill="#ffa6a6" stroke="#ffa6a6" stroke-width="0.7"/>
<path d="M476.2,258.0 L479.9,258.0 L479.9,262.3 L476.5,262.3Z" fill="#ffa6a6" stroke="#ffa6a6" stroke-width="0.7"/>
<path d="M487.2,258.0 L493.3,258.3 L493.0,262.3 L487.5,262.3Z" fill="#ffa6a6" stroke="#ffa6a6" stroke-width="0.7"/>
<path d="M410.1,344.3 L414.6,345.8 L420.7,353.1 L425.3,361.8 L424.5,369.1 L420.7,369.1 L416.1,363.3 L411.6,356.0 L409.3,348.7Z" fill="#ffa6a6" stroke="#ffa6a6" stroke-width="0.7"/>
<path d="M437.4,323.9 L442.0,323.9 L442.0,335.6 L437.8,334.9Z" fill="#ffa6a6" stroke="#ffa6a6" stroke-width="0.7"/>
<path d="M440.0,325.4 L449.1,322.5 L461.3,323.9 L478.1,326.1 L490.2,328.6 L507.0,328.3 L507.0,377.1 L475.0,377.1 L470.4,367.6 L462.8,360.4 L455.2,353.1 L446.1,344.3 L440.0,341.4Z" fill="#ffa6a6" stroke="#ffa6a6" stroke-width="0.7"/>
<path d="M394.8,272.8 L396.4,264.5 L400.9,263.1 L404.7,265.0 L410.1,262.3 L416.1,264.5 L422.2,267.4 L424.5,272.8Z" fill="#a6a6ff" stroke="#a6a6ff" stroke-width="0.7"/>
<path d="M399.7,240.5 L403.2,239.7 L404.7,250.7 L406.4,262.3 L401.8,263.5 L400.3,252.1Z" fill="#a6a6ff" stroke="#a6a6ff" stroke-width="0.7"/>
<path d="M375.3,271.0 L442.0,271.0 L442.0,325.5 L375.3,325.5Z" fill="#a6a6ff" stroke="#a6a6ff" stroke-width="0.7"/>
<path d="M440.0,271.0 L507.0,271.0 L507.0,325.5 L440.0,325.5Z" fill="#a6a6ff" stroke="#a6a6ff" stroke-width="0.7"/>
<path d="M391.8,318.7 L398.2,318.7 L402.4,334.1 L404.0,348.7 L402.4,363.3 L400.9,377.1 L396.4,377.1 L399.4,356.0 L397.9,338.5 L394.8,326.8Z" fill="#a6a6ff" stroke="#a6a6ff" stroke-width="0.7"/>
<path d="M411.6,318.7 L422.2,318.7 L425.3,328.3 L426.0,337.0 L423.8,338.5 L417.7,332.7 L413.1,325.4Z" fill="#a6a6ff" stroke="#a6a6ff" stroke-width="0.7"/>
<path d="M440.0,357.4 L447.6,358.9 L455.2,363.3 L459.8,370.6 L458.3,377.1 L440.0,377.1Z" fill="#a6a6ff" stroke="#a6a6ff" stroke-width="0.7"/>
<path d="M383.0,271.0 L386.9,271.0 L386.5,275.6 L383.9,275.6Z" fill="#ffdada" stroke="#ffdada" stroke-width="0.7"/>
<path d="M393.0,271.0 L397.9,271.0 L397.6,275.6 L393.3,275.6Z" fill="#dcdcff" stroke="#dcdcff" stroke-width="0.7"/>
<path d="M387.2,284.4 L391.8,281.5 L396.4,287.3 L402.4,274.2 L404.7,275.6 L405.5,288.8 L404.0,300.4 L399.4,303.3 L394.8,301.9 L390.3,296.0Z" fill="#dcdcff" stroke="#dcdcff" stroke-width="0.7"/>
<path d="M414.6,278.6 L419.2,277.1 L422.2,284.4 L420.7,294.6 L416.1,296.0 L412.3,287.3Z" fill="#dcdcff" stroke="#dcdcff" stroke-width="0.7"/>
<path d="M419.2,301.9 L428.3,299.0 L434.4,300.4 L442.0,303.3 L442.0,325.5 L417.7,325.5 L416.1,313.5Z" fill="#dcdcff" stroke="#dcdcff" stroke-width="0.7"/>
<path d="M440.0,271.0 L449.1,271.0 L449.1,275.6 L440.0,275.6Z" fill="#ffdada" stroke="#ffdada" stroke-width="0.7"/>
<path d="M440.0,310.6 L455.2,312.1 L470.4,312.1 L490.2,309.2 L490.2,316.4 L440.0,316.4Z" fill="#dcdcff" stroke="#dcdcff" stroke-width="0.7"/>
<path d="M426.8,312.1 L435.9,309.2 L442.0,310.6 L442.0,325.5 L428.3,325.5Z" fill="#ffdada" stroke="#ffdada" stroke-width="0.7"/>
<path d="M417.7,271.0 L442.0,271.0 L442.0,275.6 L425.3,275.9Z" fill="#ffdada" stroke="#ffdada" stroke-width="0.7"/>
<path d="M440.0,313.5 L455.2,315.0 L470.4,315.7 L485.7,313.5 L485.7,325.5 L440.0,325.5Z" fill="#ffdada" stroke="#ffdada" stroke-width="0.7"/>
<path d="M491.8,271.0 L507.0,271.0 L507.0,296.0 L494.8,294.6 L491.8,284.4Z" fill="#ffdada" stroke="#ffdada" stroke-width="0.7"/>
<path d="M429.8,271.0 L442.0,271.0 L442.0,274.2 L431.4,274.2Z" fill="#ffa6a6" stroke="#ffa6a6" stroke-width="0.7"/>
<path d="M446.1,320.8 L458.3,321.1 L458.3,325.5 L446.1,325.5Z" fill="#ffa6a6" stroke="#ffa6a6" stroke-width="0.7"/>
<path d="M497.8,271.0 L503.9,271.0 L503.9,282.9 L498.6,282.9Z" fill="#ffa6a6" stroke="#ffa6a6" stroke-width="0.7"/>
<path d="M404.0,239.9 L408.5,230.0 L414.9,228.8 L421.0,231.1 L425.3,234.6 L426.8,238.7 L423.8,242.2 L428.0,246.6 L432.6,250.7 L437.1,255.0 L442.0,258.0 L442.0,263.8 L435.9,262.9 L430.1,260.0 L422.5,255.9 L414.9,253.0 L409.1,248.6 L404.3,244.6Z" fill="#ff7070" stroke="#ff7070" stroke-width="0.7"/>
<path d="M491.8,240.2 L494.8,240.2 L494.5,242.2 L491.8,242.2Z" fill="#ff7070" stroke="#ff7070" stroke-width="0.7"/>
<path d="M440.0,258.0 L446.1,258.7 L446.4,263.8 L440.0,264.1Z" fill="#ff7070" stroke="#ff7070" stroke-width="0.7"/>
<path d="M413.1,350.2 L416.1,350.9 L421.5,358.9 L422.2,364.7 L419.2,365.5 L415.4,358.9Z" fill="#ff7070" stroke="#ff7070" stroke-width="0.7"/>
<path d="M472.0,337.0 L478.1,334.1 L490.2,331.2 L500.9,329.8 L505.4,332.7 L507.0,348.7 L507.0,377.1 L490.2,377.1 L485.7,367.6 L478.1,358.9 L473.5,351.6 L471.2,344.3Z" fill="#ff7070" stroke="#ff7070" stroke-width="0.7"/>
<path d="M443.0,329.8 L450.7,330.1 L450.4,333.0 L443.8,333.0Z" fill="#ff7070" stroke="#ff7070" stroke-width="0.7"/>
<path d="M494.8,373.5 L503.9,373.2 L503.9,377.1 L494.8,377.1Z" fill="#ffa6a6" stroke="#ffa6a6" stroke-width="0.7"/>
<path d="M394.5,221.8 L398.6,229.5 L397.3,236.4 L394.8,241.6 L391.2,234.9 L391.5,228.5Z" fill="#7070ff" stroke="#7070ff" stroke-width="0.7"/>
<path d="M380.4,234.6 L386.5,237.6 L388.7,243.4 L386.9,249.2 L390.6,254.3 L392.5,262.3 L390.0,272.8 L376.6,272.8 L378.1,265.2 L381.1,258.0 L378.8,250.7 L377.3,243.4Z" fill="#7070ff" stroke="#7070ff" stroke-width="0.7"/>
<path d="M400.9,217.5 L428.3,217.5 L427.1,220.4 L429.8,222.7 L442.0,223.9 L442.0,252.1 L439.0,251.4 L434.4,252.4 L432.6,248.1 L434.7,243.7 L431.7,240.2 L428.6,237.3 L425.6,232.9 L421.0,229.7 L416.4,227.7 L411.9,227.1 L408.1,228.5 L405.0,230.0 L402.0,226.2Z" fill="#7070ff" stroke="#7070ff" stroke-width="0.7"/>
<path d="M496.6,217.5 L507.0,217.5 L507.0,233.5 L502.4,229.5 L498.1,224.7 L495.1,220.7Z" fill="#7070ff" stroke="#7070ff" stroke-width="0.7"/>
<path d="M440.0,223.3 L449.1,224.2 L455.2,227.1 L462.8,224.2 L468.9,222.7 L475.0,224.2 L481.1,225.6 L487.2,227.1 L490.5,230.3 L490.5,236.1 L489.0,240.5 L485.7,243.4 L481.1,246.3 L475.0,247.8 L470.4,249.2 L462.8,247.8 L455.2,250.7 L447.6,253.6 L440.0,253.9Z" fill="#7070ff" stroke="#7070ff" stroke-width="0.7"/>
<path d="M494.8,252.4 L500.9,251.4 L504.2,258.0 L502.4,268.2 L496.3,268.5 L494.0,260.9Z" fill="#7070ff" stroke="#7070ff" stroke-width="0.7"/>
<path d="M375.3,316.4 L381.1,317.2 L387.2,320.8 L388.7,325.5 L375.3,325.5Z" fill="#7070ff" stroke="#7070ff" stroke-width="0.7"/>
<path d="M408.5,300.7 L411.3,300.1 L413.1,304.8 L410.8,309.2 L408.5,305.1Z" fill="#7070ff" stroke="#7070ff" stroke-width="0.7"/>
<path d="M422.5,281.5 L425.3,281.5 L425.3,287.3 L422.5,287.3Z" fill="#7070ff" stroke="#7070ff" stroke-width="0.7"/>
<path d="M437.4,275.6 L442.0,275.6 L442.0,300.4 L439.0,296.0Z" fill="#7070ff" stroke="#7070ff" stroke-width="0.7"/>
<path d="M440.0,275.6 L453.7,275.6 L456.7,278.6 L462.8,277.1 L484.1,277.1 L490.2,281.5 L490.2,296.0 L488.7,304.8 L482.6,307.7 L470.4,309.2 L455.2,308.4 L440.0,306.2Z" fill="#7070ff" stroke="#7070ff" stroke-width="0.7"/>
<path d="M493.3,294.6 L507.0,293.1 L507.0,325.5 L491.8,325.5Z" fill="#7070ff" stroke="#7070ff" stroke-width="0.7"/>
<path d="M375.3,318.7 L391.8,318.7 L394.8,326.8 L397.9,338.5 L399.4,356.0 L396.4,377.1 L375.3,377.1Z" fill="#7070ff" stroke="#7070ff" stroke-width="0.7"/>
<path d="M441.5,362.5 L449.1,363.3 L455.2,367.6 L452.2,373.5 L444.6,373.5 L441.5,369.1Z" fill="#7070ff" stroke="#7070ff" stroke-width="0.7"/>
<path d="M490.2,318.7 L505.4,318.7 L505.4,325.4 L491.8,325.4Z" fill="#7070ff" stroke="#7070ff" stroke-width="0.7"/>
<path d="M450.7,279.3 L467.4,279.3 L466.6,281.5 L451.4,281.5Z" fill="#dcdcff" stroke="#dcdcff" stroke-width="0.7"/>
<path d="M500.9,300.4 L503.9,300.4 L503.9,307.7 L501.2,307.7Z" fill="#dcdcff" stroke="#dcdcff" stroke-width="0.7"/>
<path d="M394.8,223.3 L397.6,230.0 L396.4,236.1 L394.8,240.2 L392.1,234.6 L392.4,228.8Z" fill="#3c3cff" stroke="#3c3cff" stroke-width="0.7"/>
<path d="M381.4,236.4 L385.7,239.3 L387.2,243.7 L385.1,249.2 L388.7,255.0 L390.3,262.3 L387.5,272.8 L378.4,272.8 L379.9,265.2 L383.0,258.0 L380.7,250.7 L379.2,243.4Z" fill="#3c3cff" stroke="#3c3cff" stroke-width="0.7"/>
<path d="M402.0,217.5 L428.0,217.5 L426.8,220.7 L429.5,223.0 L442.0,224.4 L442.0,250.7 L439.0,250.4 L434.7,251.4 L433.2,247.8 L435.3,243.7 L432.6,240.5 L429.5,237.6 L426.5,233.5 L421.9,230.3 L417.4,228.2 L412.8,227.7 L408.5,228.8 L405.5,230.6 L402.7,225.9Z" fill="#3c3cff" stroke="#3c3cff" stroke-width="0.7"/>
<path d="M498.1,217.5 L507.0,217.5 L507.0,231.4 L502.7,227.7 L499.1,223.3 L496.6,220.4Z" fill="#3c3cff" stroke="#3c3cff" stroke-width="0.7"/>
<path d="M440.0,224.4 L444.6,225.9 L447.6,230.3 L452.2,234.6 L456.7,236.1 L452.2,239.7 L446.1,243.4 L440.0,244.8Z" fill="#3c3cff" stroke="#3c3cff" stroke-width="0.7"/>
<path d="M461.3,227.7 L470.4,225.6 L476.5,228.1 L475.0,232.9 L465.9,233.9Z" fill="#3c3cff" stroke="#3c3cff" stroke-width="0.7"/>
<path d="M480.3,226.6 L485.7,228.8 L485.7,234.6 L483.4,241.9 L479.9,243.4 L477.3,237.6 L478.1,230.3Z" fill="#3c3cff" stroke="#3c3cff" stroke-width="0.7"/>
<path d="M496.6,253.9 L500.6,253.6 L501.2,263.8 L497.5,265.2 L496.0,259.4Z" fill="#3c3cff" stroke="#3c3cff" stroke-width="0.7"/>
<path d="M456.7,272.8 L457.5,262.3 L462.8,258.7 L470.4,260.9 L478.1,262.3 L484.1,265.2 L487.2,272.8Z" fill="#3c3cff" stroke="#3c3cff" stroke-width="0.7"/>
<path d="M376.6,271.0 L380.4,271.0 L379.9,277.1 L376.6,276.5Z" fill="#3c3cff" stroke="#3c3cff" stroke-width="0.7"/>
<path d="M387.2,271.0 L391.5,271.0 L390.9,274.2 L387.8,274.2Z" fill="#3c3cff" stroke="#3c3cff" stroke-width="0.7"/>
<path d="M450.7,271.0 L482.6,271.0 L485.7,274.2 L484.1,277.1 L479.6,278.6 L470.4,275.9 L462.8,277.4 L456.7,278.6 L453.7,275.9Z" fill="#3c3cff" stroke="#3c3cff" stroke-width="0.7"/>
<path d="M462.8,288.8 L470.4,285.8 L479.6,284.4 L481.1,287.3 L475.0,291.7 L468.9,296.0 L462.8,297.5 L461.3,293.1Z" fill="#3c3cff" stroke="#3c3cff" stroke-width="0.7"/>
<path d="M486.4,281.5 L489.5,281.5 L489.5,287.3 L486.4,287.3Z" fill="#3c3cff" stroke="#3c3cff" stroke-width="0.7"/>
<path d="M375.3,341.4 L381.1,339.2 L388.7,340.7 L391.0,348.7 L389.5,360.4 L385.7,369.1 L381.1,374.9 L378.1,377.1 L375.3,377.1Z" fill="#3c3cff" stroke="#3c3cff" stroke-width="0.7"/>
<path d="M375.0,330.0 L392.0,332.0 L395.0,350.0 L392.0,368.0 L385.0,377.5 L375.0,377.5Z" fill="#7070ff" stroke="#7070ff" stroke-width="0.7"/>
<path d="M459.0,281.0 L483.0,281.0 L483.0,300.0 L459.0,300.0Z" fill="#7070ff" stroke="#7070ff" stroke-width="0.7"/>
<path d="M475.0,284.0 L481.0,284.0 L481.0,290.0 L476.0,290.0Z" fill="#3c3cff" stroke="#3c3cff" stroke-width="0.7"/>
<path d="M468.0,291.0 L473.0,291.0 L473.0,293.5 L468.0,293.5Z" fill="#3c3cff" stroke="#3c3cff" stroke-width="0.7"/>
<path d="M434.0,251.6 L450.0,255.4 L458.0,263.1 L458.0,272.6 L446.0,273.6 L436.0,267.9Z" fill="#ffdada" stroke="#ffdada" stroke-width="0.7"/>
<path d="M432.0,253.5 L447.0,258.3 L451.0,265.0 L444.0,268.8 L433.0,264.0Z" fill="#ffa6a6" stroke="#ffa6a6" stroke-width="0.7"/>
<path d="M436.0,256.4 L446.0,260.2 L447.0,264.0 L442.0,265.0 L436.0,262.1Z" fill="#ff7070" stroke="#ff7070" stroke-width="0.7"/>
<path d="M440.0,290.5 L507.0,290.5 L507.0,325.8 L490.2,320.7 L485.7,312.7 L479.6,309.8 L470.4,308.3 L464.4,306.9 L458.3,305.4 L449.1,302.5 L440.0,299.6Z" fill="#7070ff" stroke="#7070ff" stroke-width="0.7"/>
<path d="M461.3,290.5 L475.0,290.5 L474.2,295.2 L467.4,298.1 L462.1,297.4Z" fill="#3c3cff" stroke="#3c3cff" stroke-width="0.7"/>
<path d="M487.2,290.5 L494.8,290.5 L493.3,299.6 L490.2,305.4 L487.9,304.0Z" fill="#a6a6ff" stroke="#a6a6ff" stroke-width="0.7"/>
<path d="M500.9,299.6 L505.4,299.6 L505.8,322.9 L501.6,323.2Z" fill="#a6a6ff" stroke="#a6a6ff" stroke-width="0.7"/>
<path d="M440.0,299.3 L449.1,302.2 L458.3,305.1 L464.4,306.6 L470.4,308.0 L479.6,309.5 L485.7,312.4 L490.5,320.0 L490.5,322.2 L482.6,317.8 L470.4,315.9 L455.2,313.0 L440.0,308.6Z" fill="#a6a6ff" stroke="#a6a6ff" stroke-width="0.7"/>
<path d="M440.0,308.3 L455.2,312.7 L470.4,315.6 L482.6,317.5 L490.5,321.7 L491.1,325.8 L479.6,323.2 L467.4,320.7 L455.2,318.5 L440.0,316.3Z" fill="#dcdcff" stroke="#dcdcff" stroke-width="0.7"/>
<path d="M440.0,316.0 L455.2,318.2 L467.4,320.4 L479.6,322.9 L491.1,325.5 L492.1,330.5 L485.7,329.5 L475.0,327.3 L467.4,323.2 L455.2,320.0 L440.0,322.2Z" fill="#ffdada" stroke="#ffdada" stroke-width="0.7"/>
<path d="M440.0,321.9 L455.2,319.7 L467.4,322.9 L475.0,327.0 L485.7,329.2 L492.1,331.3 L493.6,333.1 L507.0,331.6 L507.0,348.5 L440.0,348.5Z" fill="#ffa6a6" stroke="#ffa6a6" stroke-width="0.7"/>
<path d="M491.1,320.7 L507.0,317.4 L507.0,327.3 L500.9,326.7 L493.0,328.1Z" fill="#7070ff" stroke="#7070ff" stroke-width="0.7"/>
<path d="M472.0,348.5 L473.5,337.5 L479.6,334.6 L490.2,333.1 L494.8,332.4 L500.9,329.5 L507.0,330.2 L507.0,348.5Z" fill="#ff7070" stroke="#ff7070" stroke-width="0.7"/>
<path d="M443.0,329.5 L450.7,329.0 L451.0,333.1 L443.8,333.4Z" fill="#ff7070" stroke="#ff7070" stroke-width="0.7"/>
<path d="M440.0,338.9 L449.1,340.4 L454.0,348.5 L440.0,348.5Z" fill="#ffdada" stroke="#ffdada" stroke-width="0.7"/>
<path d="M400.0,247.8 L406.6,247.8 L408.9,255.1 L416.5,261.2 L425.4,264.8 L433.1,267.2 L442.0,268.5 L442.0,296.0 L375.4,296.0 L375.4,269.8 L400.0,269.8Z" fill="#a6a6ff" stroke="#a6a6ff" stroke-width="0.7"/>
<path d="M400.0,247.8 L406.4,247.8 L408.3,253.8 L411.4,258.7 L406.4,262.4 L402.5,269.7 L399.4,277.0 L394.9,275.8 L393.4,269.8 L400.0,269.8Z" fill="#dcdcff" stroke="#dcdcff" stroke-width="0.7"/>
<path d="M387.3,283.1 L392.4,280.6 L397.4,284.3 L396.8,291.6 L391.1,292.2 L387.3,288.0Z" fill="#dcdcff" stroke="#dcdcff" stroke-width="0.7"/>
<path d="M375.4,269.8 L379.6,269.8 L380.9,278.2 L383.5,284.3 L386.0,296.0 L375.4,296.0Z" fill="#7070ff" stroke="#7070ff" stroke-width="0.7"/>
<path d="M411.4,278.2 L416.5,276.4 L420.3,280.6 L419.7,288.0 L415.3,288.6 L412.1,284.3Z" fill="#dcdcff" stroke="#dcdcff" stroke-width="0.7"/>
<path d="M375.8,269.8 L396.2,269.8 L394.9,272.1 L391.1,278.2 L384.7,280.6 L379.6,278.2 L375.8,276.4Z" fill="#7070ff" stroke="#7070ff" stroke-width="0.7"/>
<path d="M422.9,281.9 L424.8,281.9 L424.8,286.7 L422.9,286.7Z" fill="#7070ff" stroke="#7070ff" stroke-width="0.7"/>
<path d="M375.8,269.8 L379.9,269.8 L378.1,276.7 L375.8,276.0Z" fill="#3c3cff" stroke="#3c3cff" stroke-width="0.7"/>
<path d="M388.3,269.8 L393.6,269.8 L391.1,273.6 L389.2,271.5Z" fill="#3c3cff" stroke="#3c3cff" stroke-width="0.7"/>
<path d="M383.5,269.8 L386.2,269.8 L384.7,275.2Z" fill="#ffa6a6" stroke="#ffa6a6" stroke-width="0.7"/>
</g>
<path d="M375.0,284.6 L379.3,284.1 L382.1,285.4 L384.0,286.9 L385.2,290.0 L387.9,292.5 L389.5,293.5 L391.1,296.5 L393.8,297.0 L396.1,296.5 L393.4,298.1 L391.1,299.6 L392.2,301.6 L394.2,304.1 L396.5,306.7 L398.9,307.7 L401.2,306.2 L403.6,304.1 L405.1,299.6 L406.3,303.1 L405.5,305.7 L406.1,309.7 L406.1,316.3 L406.7,321.4 L407.9,326.4 L409.8,333.5 L411.8,339.1 L413.8,346.7 L416.1,352.8 L417.7,355.8 L419.2,361.9 L420.8,367.5 L424.3,371.5 L426.7,368.0 L428.6,366.0 L430.6,365.4 L431.4,360.4 L433.5,360.4 L433.5,354.3 L435.3,346.2 L434.5,341.6 L434.9,336.6 L437.6,332.5 L439.2,330.0 L443.1,328.5 L444.3,325.4 L447.0,322.9 L450.2,319.8 L453.7,314.8 L456.8,312.2 L459.2,311.2 L461.5,307.7 L461.1,304.6 L464.2,303.1 L466.2,302.6 L469.3,302.6 L472.9,301.1 L475.2,299.1 L477.5,298.1 L480.3,299.6 L480.7,303.6 L481.9,306.7 L484.6,310.7 L487.3,314.8 L490.1,320.4 L490.9,324.9 L490.1,331.0 L492.8,332.5 L494.8,332.5 L497.9,328.5 L500.6,326.9 L503.0,329.0 L503.4,334.0 L505.3,344.2 L507.3,351.8" fill="none" stroke="#404040" stroke-width="1.25" stroke-linejoin="round"/>
<path d="M433.7,362.9 L435.3,362.9 L437.6,367.0 L438.8,369.5 L440.0,373.0 L441.1,377.1 L441.5,379.6" fill="none" stroke="#404040" stroke-width="1.25" stroke-linejoin="round"/>
<path d="M433.3,379.6 L433.5,377.1 L433.3,372.0 L433.7,367.0 L433.7,362.9" fill="none" stroke="#404040" stroke-width="1.25" stroke-linejoin="round"/>
</g>
<rect x="375.4" y="217.5" width="131.5" height="159.6" fill="none" stroke="#777" stroke-width="0.75"/>
<line x1="372.4" y1="235.2" x2="375.4" y2="235.2" stroke="#444" stroke-width="0.9"/>
<text x="370.4" y="239.8" font-size="10.1" fill="#3a3a3a" text-anchor="end" textLength="15.2" lengthAdjust="spacingAndGlyphs">35N</text>
<line x1="372.4" y1="260.6" x2="375.4" y2="260.6" stroke="#444" stroke-width="0.9"/>
<text x="370.4" y="265.2" font-size="10.1" fill="#3a3a3a" text-anchor="end" textLength="15.2" lengthAdjust="spacingAndGlyphs">30N</text>
<line x1="372.4" y1="285.9" x2="375.4" y2="285.9" stroke="#444" stroke-width="0.9"/>
<text x="370.4" y="290.5" font-size="10.1" fill="#3a3a3a" text-anchor="end" textLength="15.2" lengthAdjust="spacingAndGlyphs">25N</text>
<line x1="372.4" y1="311.2" x2="375.4" y2="311.2" stroke="#444" stroke-width="0.9"/>
<text x="370.4" y="315.8" font-size="10.1" fill="#3a3a3a" text-anchor="end" textLength="15.2" lengthAdjust="spacingAndGlyphs">20N</text>
<line x1="372.4" y1="336.6" x2="375.4" y2="336.6" stroke="#444" stroke-width="0.9"/>
<text x="370.4" y="341.2" font-size="10.1" fill="#3a3a3a" text-anchor="end" textLength="15.2" lengthAdjust="spacingAndGlyphs">15N</text>
<line x1="372.4" y1="361.9" x2="375.4" y2="361.9" stroke="#444" stroke-width="0.9"/>
<text x="370.4" y="366.5" font-size="10.1" fill="#3a3a3a" text-anchor="end" textLength="15.2" lengthAdjust="spacingAndGlyphs">10N</text>
<line x1="395.0" y1="377.1" x2="395.0" y2="380.1" stroke="#444" stroke-width="0.9"/>
<text x="395.0" y="389.3" font-size="10.1" fill="#3a3a3a" text-anchor="middle" textLength="14.6" lengthAdjust="spacingAndGlyphs">70E</text>
<line x1="414.5" y1="377.1" x2="414.5" y2="380.1" stroke="#444" stroke-width="0.9"/>
<text x="414.5" y="389.3" font-size="10.1" fill="#3a3a3a" text-anchor="middle" textLength="14.6" lengthAdjust="spacingAndGlyphs">75E</text>
<line x1="434.1" y1="377.1" x2="434.1" y2="380.1" stroke="#444" stroke-width="0.9"/>
<text x="434.1" y="389.3" font-size="10.1" fill="#3a3a3a" text-anchor="middle" textLength="14.6" lengthAdjust="spacingAndGlyphs">80E</text>
<line x1="453.7" y1="377.1" x2="453.7" y2="380.1" stroke="#444" stroke-width="0.9"/>
<text x="453.7" y="389.3" font-size="10.1" fill="#3a3a3a" text-anchor="middle" textLength="14.6" lengthAdjust="spacingAndGlyphs">85E</text>
<line x1="473.2" y1="377.1" x2="473.2" y2="380.1" stroke="#444" stroke-width="0.9"/>
<text x="473.2" y="389.3" font-size="10.1" fill="#3a3a3a" text-anchor="middle" textLength="14.6" lengthAdjust="spacingAndGlyphs">90E</text>
<line x1="492.8" y1="377.1" x2="492.8" y2="380.1" stroke="#444" stroke-width="0.9"/>
<text x="492.8" y="389.3" font-size="10.1" fill="#3a3a3a" text-anchor="middle" textLength="14.6" lengthAdjust="spacingAndGlyphs">95E</text>
<text x="440.5" y="213.5" font-size="8.4" fill="#707070" text-anchor="middle" textLength="58.9" lengthAdjust="spacingAndGlyphs">Future2−Present2</text>
<path d="M321.9,93.1 L326.0,111.4 L317.8,111.4 Z" fill="#f20000"/>
<rect x="317.8" y="111.4" width="8.2" height="18.57" fill="#ff3c3c"/>
<rect x="317.8" y="129.975" width="8.2" height="18.58" fill="#ff7070"/>
<rect x="317.8" y="148.55" width="8.2" height="18.57" fill="#ffa6a6"/>
<rect x="317.8" y="167.125" width="8.2" height="18.57" fill="#ffdada"/>
<rect x="317.8" y="185.7" width="8.2" height="18.58" fill="#dcdcff"/>
<rect x="317.8" y="204.275" width="8.2" height="18.57" fill="#a6a6ff"/>
<rect x="317.8" y="222.85" width="8.2" height="18.58" fill="#7070ff"/>
<rect x="317.8" y="241.425" width="8.2" height="18.57" fill="#3c3cff"/>
<path d="M317.8,260.0 L326.0,260.0 L321.9,278.3 Z" fill="#0000f2"/>
<path d="M321.9,93.1 L326.0,111.4 L326.0,260.0 L321.9,278.3 L317.8,260.0 L317.8,111.4 Z" fill="none" stroke="#555" stroke-width="0.6"/>
<line x1="317.8" y1="111.4" x2="326.0" y2="111.4" stroke="#555" stroke-width="0.6"/>
<line x1="317.8" y1="129.975" x2="326.0" y2="129.975" stroke="#555" stroke-width="0.6"/>
<line x1="317.8" y1="148.55" x2="326.0" y2="148.55" stroke="#555" stroke-width="0.6"/>
<line x1="317.8" y1="167.125" x2="326.0" y2="167.125" stroke="#555" stroke-width="0.6"/>
<line x1="317.8" y1="185.7" x2="326.0" y2="185.7" stroke="#555" stroke-width="0.6"/>
<line x1="317.8" y1="204.275" x2="326.0" y2="204.275" stroke="#555" stroke-width="0.6"/>
<line x1="317.8" y1="222.85" x2="326.0" y2="222.85" stroke="#555" stroke-width="0.6"/>
<line x1="317.8" y1="241.425" x2="326.0" y2="241.425" stroke="#555" stroke-width="0.6"/>
<line x1="317.8" y1="260.0" x2="326.0" y2="260.0" stroke="#555" stroke-width="0.6"/>
<text x="328.2" y="114.1" font-size="7.4" fill="#555">0.2</text>
<text x="328.2" y="132.7" font-size="7.4" fill="#555">0.15</text>
<text x="328.2" y="151.2" font-size="7.4" fill="#555">0.1</text>
<text x="328.2" y="169.8" font-size="7.4" fill="#555">0.05</text>
<text x="328.2" y="188.4" font-size="7.4" fill="#555">0</text>
<text x="328.2" y="207.0" font-size="7.4" fill="#555">−0.03</text>
<text x="328.2" y="225.5" font-size="7.4" fill="#555">−0.05</text>
<text x="328.2" y="244.1" font-size="7.4" fill="#555">−0.1</text>
<text x="328.2" y="262.7" font-size="7.4" fill="#555">−0.15</text>
<path d="M519.8,103.1 L523.4,123.8 L516.1,123.8 Z" fill="#ff7070"/>
<rect x="516.1" y="123.8" width="7.3" height="20.50" fill="#ffa6a6"/>
<rect x="516.1" y="144.3" width="7.3" height="21.00" fill="#ffdada"/>
<rect x="516.1" y="165.3" width="7.3" height="21.00" fill="#dcdcff"/>
<rect x="516.1" y="186.3" width="7.3" height="20.60" fill="#a6a6ff"/>
<rect x="516.1" y="206.9" width="7.3" height="20.80" fill="#7070ff"/>
<path d="M516.1,227.7 L523.4,227.7 L519.8,248.0 Z" fill="#3c3cff"/>
<path d="M519.8,103.1 L523.4,123.8 L523.4,227.7 L519.8,248.0 L516.1,227.7 L516.1,123.8 Z" fill="none" stroke="#555" stroke-width="0.6"/>
<line x1="516.1" y1="123.8" x2="523.4" y2="123.8" stroke="#555" stroke-width="0.6"/>
<line x1="516.1" y1="144.3" x2="523.4" y2="144.3" stroke="#555" stroke-width="0.6"/>
<line x1="516.1" y1="165.3" x2="523.4" y2="165.3" stroke="#555" stroke-width="0.6"/>
<line x1="516.1" y1="186.3" x2="523.4" y2="186.3" stroke="#555" stroke-width="0.6"/>
<line x1="516.1" y1="206.9" x2="523.4" y2="206.9" stroke="#555" stroke-width="0.6"/>
<line x1="516.1" y1="227.7" x2="523.4" y2="227.7" stroke="#555" stroke-width="0.6"/>
<text x="525.2" y="126.5" font-size="7.4" fill="#555">0.01</text>
<text x="525.2" y="147.0" font-size="7.4" fill="#555">0.005</text>
<text x="525.2" y="168.0" font-size="7.4" fill="#555">0</text>
<text x="525.2" y="189.0" font-size="7.4" fill="#555">−0.003</text>
<text x="525.2" y="209.6" font-size="7.4" fill="#555">−0.005</text>
<text x="525.2" y="230.4" font-size="7.4" fill="#555">−0.01</text>
</svg></body></html>
